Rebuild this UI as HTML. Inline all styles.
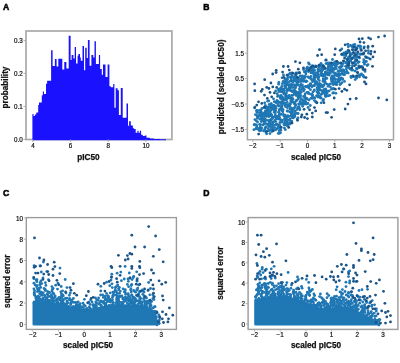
<!DOCTYPE html>
<html><head><meta charset="utf-8"><style>
html,body{margin:0;padding:0;background:#fff;width:400px;height:363px;overflow:hidden}
svg{display:block;will-change:transform}
text{font-family:"Liberation Sans", sans-serif}
circle{fill:#1f77b4} .d{fill:#1a5488}
</style></head><body>
<svg width="400" height="363" viewBox="0 0 400 363">
<rect x="26" y="31" width="145.9" height="108.5" fill="none" stroke="#a9a9a9" stroke-width="1.7"/>
<path d="M32.4,140.2H32.4V114H33.5H33.5V116H34.9H34.9V114.6H36.3H36.3V112.5H38.2H38.2V105H39H39V102.5H41.8H41.8V95.2H42.9H42.9V91.6H44H44V94H46H46V83.8H47.1H47.1V80.7H51.1H51.1V50.2H52.6H52.6V66H54.9H54.9V59H56.6H56.6V66.5H58.3H58.3V58.8H62.3H62.3V69.5H64.3H64.3V62H66.4H66.4V68.6H68.7H68.7V35.8H70.6H70.6V60H71.6H71.6V55.1H73.4H73.4V58.4H74.7H74.7V46.9H76H76V63.6H77.6H77.6V55.8H78.4H78.4V53.9H80H80V57.6H80.8H80.8V60.7H82.5H82.5V46H84H84V70.2H85.2H85.2V47.7H86.7H86.7V58H87.9H87.9V39.9H89.6H89.6V65.7H91.4H91.4V55.1H93.3H93.3V57.4H94.5H94.5V41.3H95.9H95.9V64H98.9H98.9V55H100.1H100.1V69H101.8H101.8V74.8H103H103V64.5H105.5H105.5V76.9H107.6H107.6V64.5H109.4H109.4V86.2H110.8H110.8V87.2H113.2H113.2V84.1H114.4H114.4V107.7H115.7H115.7V88.3H117.6H117.6V90.3H118.9H118.9V115H120.8H120.8V87.9H122.7H122.7V117.7H126.5H126.5V103.6H128H128V125.7H129.1H129.1V121.2H130.8H130.8V125.5H132.9H132.9V128.2H134.1H134.1V129H135.7H135.7V132.7H137.4H137.4V130.7H138.6H138.6V132.7H139.9H139.9V130.7H141.1H141.1V134.8H142.8H142.8V136H144.8H144.8V135.6H146.5H146.5V137.7H149.8H149.8V138.5H153.9H153.9V139H160H160V139.3H166V140.2Z" fill="#1a12ff" stroke="none"/>
<line x1="23.5" y1="139.5" x2="26" y2="139.5" stroke="#a9a9a9" stroke-width="0.9"/>
<text x="22.7" y="142.2" font-size="6.3" text-anchor="end" fill="#111" stroke="#111" stroke-width="0.2">0.0</text>
<line x1="23.5" y1="106.47" x2="26" y2="106.47" stroke="#a9a9a9" stroke-width="0.9"/>
<text x="22.7" y="109.17" font-size="6.3" text-anchor="end" fill="#111" stroke="#111" stroke-width="0.2">0.1</text>
<line x1="23.5" y1="73.44" x2="26" y2="73.44" stroke="#a9a9a9" stroke-width="0.9"/>
<text x="22.7" y="76.14" font-size="6.3" text-anchor="end" fill="#111" stroke="#111" stroke-width="0.2">0.2</text>
<line x1="23.5" y1="40.41" x2="26" y2="40.41" stroke="#a9a9a9" stroke-width="0.9"/>
<text x="22.7" y="43.11" font-size="6.3" text-anchor="end" fill="#111" stroke="#111" stroke-width="0.2">0.3</text>
<line x1="32.9" y1="139.5" x2="32.9" y2="142.0" stroke="#a9a9a9" stroke-width="0.9"/>
<text x="32.9" y="147.8" font-size="6.3" text-anchor="middle" fill="#111" stroke="#111" stroke-width="0.2">4</text>
<line x1="70.6" y1="139.5" x2="70.6" y2="142.0" stroke="#a9a9a9" stroke-width="0.9"/>
<text x="70.6" y="147.8" font-size="6.3" text-anchor="middle" fill="#111" stroke="#111" stroke-width="0.2">6</text>
<line x1="108.30000000000001" y1="139.5" x2="108.30000000000001" y2="142.0" stroke="#a9a9a9" stroke-width="0.9"/>
<text x="108.30000000000001" y="147.8" font-size="6.3" text-anchor="middle" fill="#111" stroke="#111" stroke-width="0.2">8</text>
<line x1="146.0" y1="139.5" x2="146.0" y2="142.0" stroke="#a9a9a9" stroke-width="0.9"/>
<text x="146.0" y="147.8" font-size="6.3" text-anchor="middle" fill="#111" stroke="#111" stroke-width="0.2">10</text>
<text transform="translate(3.1,9.5) scale(0.92,1)" font-size="9.4" font-weight="bold" fill="#000" stroke="#000" stroke-width="0.55">A</text>
<text x="88.5" y="159.9" font-size="8.2" font-weight="bold" text-anchor="middle" fill="#111" stroke="#111" stroke-width="0.25">pIC50</text>
<text transform="translate(7.6,87.5) rotate(-90)" font-size="8.2" font-weight="bold" text-anchor="middle" fill="#111" stroke="#111" stroke-width="0.25">probability</text>
<circle cx="343.0" cy="63.6" r="1.4"/>
<circle cx="305.9" cy="71.1" r="1.4"/>
<circle cx="268.8" cy="100.8" r="1.4"/>
<circle cx="325.3" cy="91.4" r="1.4"/>
<circle cx="272.7" cy="108.4" r="1.4"/>
<circle cx="349.5" cy="56.8" r="1.4"/>
<circle cx="293.0" cy="99.4" r="1.4"/>
<circle cx="296.2" cy="73.0" r="1.4"/>
<circle cx="330.4" cy="70.8" r="1.4"/>
<circle cx="271.3" cy="126.9" r="1.4"/>
<circle cx="318.1" cy="78.1" r="1.4"/>
<circle cx="315.5" cy="72.9" r="1.4"/>
<circle cx="301.1" cy="92.3" r="1.4"/>
<circle cx="291.0" cy="98.7" r="1.4"/>
<circle cx="292.3" cy="91.8" r="1.4"/>
<circle cx="337.0" cy="63.7" r="1.4"/>
<circle cx="318.6" cy="74.6" r="1.4"/>
<circle cx="279.7" cy="119.4" r="1.4"/>
<circle cx="307.2" cy="99.1" r="1.4"/>
<circle cx="305.6" cy="102.3" r="1.4"/>
<circle cx="359.8" cy="46.5" r="1.4"/>
<circle cx="352.4" cy="46.9" r="1.4"/>
<circle cx="287.3" cy="124.8" r="1.4"/>
<circle cx="265.1" cy="115.6" r="1.4"/>
<circle cx="294.9" cy="77.7" r="1.4"/>
<circle cx="289.2" cy="85.9" r="1.4"/>
<circle cx="341.5" cy="54.6" r="1.4"/>
<circle cx="358.7" cy="67.8" r="1.4"/>
<circle cx="261.2" cy="111.8" r="1.4"/>
<circle cx="357.5" cy="54.1" r="1.4"/>
<circle cx="271.7" cy="114.9" r="1.4"/>
<circle cx="336.4" cy="84.7" r="1.4"/>
<circle cx="296.2" cy="94.6" r="1.4"/>
<circle cx="267.3" cy="110.4" r="1.4"/>
<circle cx="360.4" cy="53.8" r="1.4"/>
<circle cx="368.5" cy="53.2" r="1.4"/>
<circle cx="318.8" cy="84.8" r="1.4"/>
<circle cx="272.5" cy="129.8" r="1.4"/>
<circle cx="287.1" cy="111.1" r="1.4"/>
<circle cx="270.7" cy="124.6" r="1.4"/>
<circle cx="271.6" cy="106.3" r="1.4"/>
<circle cx="313.0" cy="69.2" r="1.4"/>
<circle cx="325.2" cy="93.5" r="1.4"/>
<circle cx="310.5" cy="89.7" r="1.4"/>
<circle cx="338.2" cy="71.0" r="1.4"/>
<circle cx="321.4" cy="73.6" r="1.4"/>
<circle cx="346.3" cy="69.1" r="1.4"/>
<circle cx="299.5" cy="108.4" r="1.4"/>
<circle cx="289.9" cy="106.3" r="1.4"/>
<circle cx="257.4" cy="111.9" r="1.4"/>
<circle cx="317.3" cy="95.6" r="1.4"/>
<circle cx="325.5" cy="94.9" r="1.4"/>
<circle cx="321.0" cy="63.3" r="1.4"/>
<circle cx="355.4" cy="61.0" r="1.4"/>
<circle cx="305.6" cy="101.6" r="1.4"/>
<circle cx="298.4" cy="95.6" r="1.4"/>
<circle cx="339.2" cy="78.5" r="1.4"/>
<circle cx="284.8" cy="83.4" r="1.4"/>
<circle cx="292.0" cy="84.9" r="1.4"/>
<circle cx="356.6" cy="78.2" r="1.4"/>
<circle cx="304.7" cy="77.8" r="1.4"/>
<circle cx="331.8" cy="65.6" r="1.4"/>
<circle cx="294.9" cy="103.2" r="1.4"/>
<circle cx="306.9" cy="92.4" r="1.4"/>
<circle cx="288.2" cy="115.8" r="1.4"/>
<circle cx="339.9" cy="75.0" r="1.4"/>
<circle cx="302.2" cy="89.0" r="1.4"/>
<circle cx="302.7" cy="103.4" r="1.4"/>
<circle cx="298.5" cy="82.1" r="1.4"/>
<circle cx="268.9" cy="130.7" r="1.4"/>
<circle cx="322.7" cy="74.2" r="1.4"/>
<circle cx="333.1" cy="82.4" r="1.4"/>
<circle cx="340.5" cy="74.3" r="1.4"/>
<circle cx="286.1" cy="85.0" r="1.4"/>
<circle cx="265.1" cy="120.2" r="1.4"/>
<circle cx="287.2" cy="102.4" r="1.4"/>
<circle cx="295.1" cy="111.6" r="1.4"/>
<circle cx="274.2" cy="112.2" r="1.4"/>
<circle cx="303.5" cy="69.6" r="1.4"/>
<circle cx="275.3" cy="112.9" r="1.4"/>
<circle cx="282.4" cy="96.9" r="1.4"/>
<circle cx="294.0" cy="115.0" r="1.4"/>
<circle cx="281.4" cy="120.0" r="1.4"/>
<circle cx="327.5" cy="73.1" r="1.4"/>
<circle cx="337.9" cy="80.7" r="1.4"/>
<circle cx="294.4" cy="94.0" r="1.4"/>
<circle cx="270.4" cy="123.5" r="1.4"/>
<circle cx="360.6" cy="48.7" r="1.4"/>
<circle cx="308.2" cy="92.3" r="1.4"/>
<circle cx="287.0" cy="117.0" r="1.4"/>
<circle cx="354.5" cy="57.6" r="1.4"/>
<circle cx="329.2" cy="90.8" r="1.4"/>
<circle cx="292.5" cy="98.3" r="1.4"/>
<circle cx="340.5" cy="66.6" r="1.4"/>
<circle cx="302.3" cy="99.8" r="1.4"/>
<circle cx="267.1" cy="110.4" r="1.4"/>
<circle cx="265.0" cy="129.0" r="1.4"/>
<circle cx="318.0" cy="86.0" r="1.4"/>
<circle cx="294.7" cy="114.6" r="1.4"/>
<circle cx="303.5" cy="79.1" r="1.4"/>
<circle cx="341.2" cy="77.9" r="1.4"/>
<circle cx="326.2" cy="59.9" r="1.4"/>
<circle cx="285.2" cy="103.1" r="1.4"/>
<circle cx="298.2" cy="97.5" r="1.4"/>
<circle cx="291.5" cy="100.5" r="1.4"/>
<circle cx="268.1" cy="109.8" r="1.4"/>
<circle cx="366.4" cy="61.4" r="1.4"/>
<circle cx="284.0" cy="100.1" r="1.4"/>
<circle cx="290.0" cy="73.5" r="1.4"/>
<circle cx="274.2" cy="110.0" r="1.4"/>
<circle cx="264.7" cy="102.8" r="1.4"/>
<circle cx="268.3" cy="128.7" r="1.4"/>
<circle cx="315.4" cy="101.3" r="1.4"/>
<circle cx="280.9" cy="98.0" r="1.4"/>
<circle cx="356.8" cy="48.4" r="1.4"/>
<circle cx="278.9" cy="125.1" r="1.4"/>
<circle cx="287.0" cy="90.5" r="1.4"/>
<circle cx="357.5" cy="72.4" r="1.4"/>
<circle cx="310.2" cy="83.8" r="1.4"/>
<circle cx="363.8" cy="54.0" r="1.4"/>
<circle cx="314.6" cy="78.6" r="1.4"/>
<circle cx="285.1" cy="105.1" r="1.4"/>
<circle cx="308.9" cy="86.7" r="1.4"/>
<circle cx="284.4" cy="119.1" r="1.4"/>
<circle cx="336.3" cy="74.1" r="1.4"/>
<circle cx="314.8" cy="78.4" r="1.4"/>
<circle cx="346.7" cy="59.1" r="1.4"/>
<circle cx="273.9" cy="125.4" r="1.4"/>
<circle cx="324.4" cy="92.0" r="1.4"/>
<circle cx="312.1" cy="69.9" r="1.4"/>
<circle cx="264.9" cy="118.9" r="1.4"/>
<circle cx="329.6" cy="69.8" r="1.4"/>
<circle cx="279.2" cy="111.0" r="1.4"/>
<circle cx="306.4" cy="98.9" r="1.4"/>
<circle cx="262.6" cy="119.9" r="1.4"/>
<circle cx="336.3" cy="82.7" r="1.4"/>
<circle cx="306.0" cy="86.6" r="1.4"/>
<circle cx="286.2" cy="99.8" r="1.4"/>
<circle cx="328.1" cy="70.2" r="1.4"/>
<circle cx="284.4" cy="127.9" r="1.4"/>
<circle cx="263.8" cy="114.0" r="1.4"/>
<circle cx="285.3" cy="94.7" r="1.4"/>
<circle cx="256.4" cy="110.7" r="1.4"/>
<circle cx="328.4" cy="69.8" r="1.4"/>
<circle cx="302.5" cy="78.9" r="1.4"/>
<circle cx="290.2" cy="81.2" r="1.4"/>
<circle cx="322.9" cy="90.9" r="1.4"/>
<circle cx="355.2" cy="71.1" r="1.4"/>
<circle cx="281.0" cy="95.4" r="1.4"/>
<circle cx="361.2" cy="50.1" r="1.4"/>
<circle cx="259.6" cy="110.3" r="1.4"/>
<circle cx="362.3" cy="66.6" r="1.4"/>
<circle cx="350.9" cy="76.4" r="1.4"/>
<circle cx="317.0" cy="92.1" r="1.4"/>
<circle cx="359.4" cy="76.9" r="1.4"/>
<circle cx="264.8" cy="129.9" r="1.4"/>
<circle cx="278.0" cy="128.2" r="1.4"/>
<circle cx="332.3" cy="79.7" r="1.4"/>
<circle cx="305.7" cy="81.7" r="1.4"/>
<circle cx="309.0" cy="69.0" r="1.4"/>
<circle cx="284.8" cy="122.3" r="1.4"/>
<circle cx="290.9" cy="101.4" r="1.4"/>
<circle cx="292.8" cy="95.3" r="1.4"/>
<circle cx="281.3" cy="90.8" r="1.4"/>
<circle cx="329.7" cy="72.9" r="1.4"/>
<circle cx="323.9" cy="84.9" r="1.4"/>
<circle cx="281.0" cy="108.9" r="1.4"/>
<circle cx="288.3" cy="88.9" r="1.4"/>
<circle cx="331.2" cy="78.9" r="1.4"/>
<circle cx="291.1" cy="100.3" r="1.4"/>
<circle cx="356.9" cy="53.8" r="1.4"/>
<circle cx="293.2" cy="117.9" r="1.4"/>
<circle cx="319.4" cy="83.5" r="1.4"/>
<circle cx="327.2" cy="63.2" r="1.4"/>
<circle cx="285.9" cy="79.9" r="1.4"/>
<circle cx="333.5" cy="84.6" r="1.4"/>
<circle cx="277.7" cy="105.3" r="1.4"/>
<circle cx="298.1" cy="113.5" r="1.4"/>
<circle cx="277.8" cy="118.9" r="1.4"/>
<circle cx="285.4" cy="106.6" r="1.4"/>
<circle cx="290.2" cy="73.4" r="1.4"/>
<circle cx="308.7" cy="77.4" r="1.4"/>
<circle cx="275.7" cy="90.8" r="1.4"/>
<circle cx="259.9" cy="114.7" r="1.4"/>
<circle cx="302.6" cy="75.9" r="1.4"/>
<circle cx="291.6" cy="81.1" r="1.4"/>
<circle cx="328.1" cy="86.3" r="1.4"/>
<circle cx="335.7" cy="66.6" r="1.4"/>
<circle cx="308.4" cy="93.4" r="1.4"/>
<circle cx="287.5" cy="79.5" r="1.4"/>
<circle cx="284.9" cy="82.5" r="1.4"/>
<circle cx="283.4" cy="114.5" r="1.4"/>
<circle cx="285.4" cy="119.1" r="1.4"/>
<circle cx="321.2" cy="75.5" r="1.4"/>
<circle cx="335.9" cy="93.3" r="1.4"/>
<circle cx="299.5" cy="72.9" r="1.4"/>
<circle cx="347.9" cy="44.1" r="1.4"/>
<circle cx="276.2" cy="124.4" r="1.4"/>
<circle cx="281.3" cy="88.2" r="1.4"/>
<circle cx="295.7" cy="86.5" r="1.4"/>
<circle cx="282.1" cy="77.8" r="1.4"/>
<circle cx="349.9" cy="68.5" r="1.4"/>
<circle cx="325.3" cy="95.7" r="1.4"/>
<circle cx="298.5" cy="85.1" r="1.4"/>
<circle cx="295.8" cy="73.9" r="1.4"/>
<circle cx="324.1" cy="89.7" r="1.4"/>
<circle cx="268.4" cy="109.1" r="1.4"/>
<circle cx="350.5" cy="45.5" r="1.4"/>
<circle cx="281.8" cy="86.3" r="1.4"/>
<circle cx="314.4" cy="75.0" r="1.4"/>
<circle cx="279.2" cy="109.9" r="1.4"/>
<circle cx="282.3" cy="83.7" r="1.4"/>
<circle cx="311.9" cy="65.8" r="1.4"/>
<circle cx="293.3" cy="117.0" r="1.4"/>
<circle cx="314.3" cy="76.4" r="1.4"/>
<circle cx="296.1" cy="85.1" r="1.4"/>
<circle cx="299.7" cy="104.4" r="1.4"/>
<circle cx="350.7" cy="60.9" r="1.4"/>
<circle cx="269.0" cy="126.6" r="1.4"/>
<circle cx="320.1" cy="89.9" r="1.4"/>
<circle cx="308.2" cy="85.6" r="1.4"/>
<circle cx="343.8" cy="52.9" r="1.4"/>
<circle cx="312.9" cy="72.0" r="1.4"/>
<circle cx="294.5" cy="90.2" r="1.4"/>
<circle cx="301.3" cy="85.4" r="1.4"/>
<circle cx="278.3" cy="133.4" r="1.4"/>
<circle cx="274.2" cy="105.5" r="1.4"/>
<circle cx="258.7" cy="128.4" r="1.4"/>
<circle cx="288.8" cy="123.3" r="1.4"/>
<circle cx="324.2" cy="75.8" r="1.4"/>
<circle cx="363.1" cy="75.3" r="1.4"/>
<circle cx="277.5" cy="96.4" r="1.4"/>
<circle cx="360.3" cy="74.8" r="1.4"/>
<circle cx="350.1" cy="55.7" r="1.4"/>
<circle cx="286.5" cy="78.9" r="1.4"/>
<circle cx="292.9" cy="108.5" r="1.4"/>
<circle cx="290.6" cy="97.6" r="1.4"/>
<circle cx="285.4" cy="119.7" r="1.4"/>
<circle cx="283.0" cy="92.1" r="1.4"/>
<circle cx="338.2" cy="73.9" r="1.4"/>
<circle cx="326.6" cy="73.8" r="1.4"/>
<circle cx="322.5" cy="93.5" r="1.4"/>
<circle cx="264.6" cy="120.8" r="1.4"/>
<circle cx="262.6" cy="115.5" r="1.4"/>
<circle cx="318.0" cy="69.3" r="1.4"/>
<circle cx="300.4" cy="95.5" r="1.4"/>
<circle cx="281.7" cy="91.8" r="1.4"/>
<circle cx="279.1" cy="115.0" r="1.4"/>
<circle cx="318.4" cy="95.3" r="1.4"/>
<circle cx="285.2" cy="86.9" r="1.4"/>
<circle cx="282.0" cy="121.0" r="1.4"/>
<circle cx="286.0" cy="95.2" r="1.4"/>
<circle cx="279.6" cy="113.6" r="1.4"/>
<circle cx="341.6" cy="71.3" r="1.4"/>
<circle cx="293.8" cy="84.7" r="1.4"/>
<circle cx="309.3" cy="64.2" r="1.4"/>
<circle cx="283.8" cy="92.6" r="1.4"/>
<circle cx="321.7" cy="90.7" r="1.4"/>
<circle cx="287.1" cy="121.8" r="1.4"/>
<circle cx="280.5" cy="132.8" r="1.4"/>
<circle cx="285.5" cy="97.1" r="1.4"/>
<circle cx="342.7" cy="78.8" r="1.4"/>
<circle cx="352.2" cy="53.7" r="1.4"/>
<circle cx="325.0" cy="74.3" r="1.4"/>
<circle cx="273.7" cy="117.1" r="1.4"/>
<circle cx="321.1" cy="94.5" r="1.4"/>
<circle cx="298.0" cy="117.8" r="1.4"/>
<circle cx="316.9" cy="76.6" r="1.4"/>
<circle cx="287.3" cy="124.7" r="1.4"/>
<circle cx="271.1" cy="115.6" r="1.4"/>
<circle cx="294.2" cy="79.4" r="1.4"/>
<circle cx="312.4" cy="97.7" r="1.4"/>
<circle cx="291.2" cy="111.7" r="1.4"/>
<circle cx="328.0" cy="69.7" r="1.4"/>
<circle cx="289.9" cy="90.4" r="1.4"/>
<circle cx="326.1" cy="90.2" r="1.4"/>
<circle cx="264.1" cy="123.7" r="1.4"/>
<circle cx="318.9" cy="92.9" r="1.4"/>
<circle cx="289.3" cy="89.7" r="1.4"/>
<circle cx="329.2" cy="62.8" r="1.4"/>
<circle cx="339.9" cy="84.6" r="1.4"/>
<circle cx="333.4" cy="72.5" r="1.4"/>
<circle cx="280.8" cy="114.3" r="1.4"/>
<circle cx="290.4" cy="122.7" r="1.4"/>
<circle cx="345.9" cy="55.7" r="1.4"/>
<circle cx="308.0" cy="76.8" r="1.4"/>
<circle cx="268.2" cy="124.6" r="1.4"/>
<circle cx="314.2" cy="90.6" r="1.4"/>
<circle cx="268.8" cy="116.1" r="1.4"/>
<circle cx="318.6" cy="68.9" r="1.4"/>
<circle cx="352.0" cy="58.3" r="1.4"/>
<circle cx="355.2" cy="79.6" r="1.4"/>
<circle cx="333.4" cy="88.3" r="1.4"/>
<circle cx="298.3" cy="99.1" r="1.4"/>
<circle cx="331.7" cy="68.4" r="1.4"/>
<circle cx="272.6" cy="123.6" r="1.4"/>
<circle cx="259.6" cy="116.2" r="1.4"/>
<circle cx="339.7" cy="74.7" r="1.4"/>
<circle cx="261.5" cy="116.9" r="1.4"/>
<circle cx="290.0" cy="124.1" r="1.4"/>
<circle cx="257.0" cy="112.5" r="1.4"/>
<circle cx="300.6" cy="103.1" r="1.4"/>
<circle cx="338.6" cy="63.2" r="1.4"/>
<circle cx="348.4" cy="67.3" r="1.4"/>
<circle cx="325.0" cy="81.8" r="1.4"/>
<circle cx="313.6" cy="70.8" r="1.4"/>
<circle cx="267.7" cy="101.2" r="1.4"/>
<circle cx="290.8" cy="108.9" r="1.4"/>
<circle cx="354.8" cy="44.4" r="1.4"/>
<circle cx="341.1" cy="63.4" r="1.4"/>
<circle cx="294.8" cy="111.1" r="1.4"/>
<circle cx="285.1" cy="124.6" r="1.4"/>
<circle cx="285.1" cy="104.8" r="1.4"/>
<circle cx="305.5" cy="86.3" r="1.4"/>
<circle cx="303.5" cy="96.4" r="1.4"/>
<circle cx="280.8" cy="91.5" r="1.4"/>
<circle cx="298.8" cy="96.1" r="1.4"/>
<circle cx="264.1" cy="122.0" r="1.4"/>
<circle cx="346.6" cy="62.8" r="1.4"/>
<circle cx="270.4" cy="114.9" r="1.4"/>
<circle cx="268.9" cy="113.5" r="1.4"/>
<circle cx="343.7" cy="74.4" r="1.4"/>
<circle cx="336.5" cy="66.1" r="1.4"/>
<circle cx="300.0" cy="76.1" r="1.4"/>
<circle cx="283.8" cy="102.9" r="1.4"/>
<circle cx="323.5" cy="66.6" r="1.4"/>
<circle cx="275.5" cy="110.6" r="1.4"/>
<circle cx="256.6" cy="127.6" r="1.4"/>
<circle cx="325.3" cy="83.2" r="1.4"/>
<circle cx="278.9" cy="106.1" r="1.4"/>
<circle cx="314.6" cy="67.0" r="1.4"/>
<circle cx="273.1" cy="122.0" r="1.4"/>
<circle cx="312.1" cy="98.3" r="1.4"/>
<circle cx="266.6" cy="133.8" r="1.4"/>
<circle cx="324.5" cy="67.4" r="1.4"/>
<circle cx="276.0" cy="124.6" r="1.4"/>
<circle cx="325.5" cy="72.2" r="1.4"/>
<circle cx="323.0" cy="69.6" r="1.4"/>
<circle cx="304.8" cy="96.1" r="1.4"/>
<circle cx="282.3" cy="105.1" r="1.4"/>
<circle cx="300.5" cy="80.6" r="1.4"/>
<circle cx="330.5" cy="73.1" r="1.4"/>
<circle cx="363.7" cy="59.7" r="1.4"/>
<circle cx="312.0" cy="86.8" r="1.4"/>
<circle cx="302.4" cy="84.9" r="1.4"/>
<circle cx="294.1" cy="91.6" r="1.4"/>
<circle cx="265.7" cy="126.9" r="1.4"/>
<circle cx="347.8" cy="66.3" r="1.4"/>
<circle cx="312.8" cy="98.0" r="1.4"/>
<circle cx="290.7" cy="98.2" r="1.4"/>
<circle cx="329.1" cy="84.7" r="1.4"/>
<circle cx="269.0" cy="121.5" r="1.4"/>
<circle cx="289.8" cy="86.5" r="1.4"/>
<circle cx="326.7" cy="96.0" r="1.4"/>
<circle cx="331.5" cy="89.2" r="1.4"/>
<circle cx="261.8" cy="114.7" r="1.4"/>
<circle cx="284.5" cy="124.8" r="1.4"/>
<circle cx="277.0" cy="100.5" r="1.4"/>
<circle cx="324.5" cy="81.3" r="1.4"/>
<circle cx="297.3" cy="81.1" r="1.4"/>
<circle cx="295.9" cy="105.4" r="1.4"/>
<circle cx="297.3" cy="84.8" r="1.4"/>
<circle cx="302.7" cy="78.4" r="1.4"/>
<circle cx="343.7" cy="70.3" r="1.4"/>
<circle cx="324.6" cy="89.5" r="1.4"/>
<circle cx="316.9" cy="102.8" r="1.4"/>
<circle cx="355.4" cy="46.9" r="1.4"/>
<circle cx="272.9" cy="108.7" r="1.4"/>
<circle cx="256.4" cy="124.9" r="1.4"/>
<circle cx="275.6" cy="129.9" r="1.4"/>
<circle cx="331.5" cy="80.9" r="1.4"/>
<circle cx="330.3" cy="83.8" r="1.4"/>
<circle cx="348.9" cy="61.6" r="1.4"/>
<circle cx="320.5" cy="97.9" r="1.4"/>
<circle cx="305.5" cy="76.6" r="1.4"/>
<circle cx="269.3" cy="120.2" r="1.4"/>
<circle cx="316.5" cy="81.6" r="1.4"/>
<circle cx="312.2" cy="70.5" r="1.4"/>
<circle cx="261.4" cy="112.9" r="1.4"/>
<circle cx="294.5" cy="77.0" r="1.4"/>
<circle cx="260.2" cy="127.2" r="1.4"/>
<circle cx="359.8" cy="45.8" r="1.4"/>
<circle cx="288.9" cy="98.1" r="1.4"/>
<circle cx="308.5" cy="71.5" r="1.4"/>
<circle cx="298.1" cy="107.2" r="1.4"/>
<circle cx="321.2" cy="98.0" r="1.4"/>
<circle cx="321.4" cy="65.1" r="1.4"/>
<circle cx="355.2" cy="53.5" r="1.4"/>
<circle cx="301.0" cy="79.4" r="1.4"/>
<circle cx="302.9" cy="87.2" r="1.4"/>
<circle cx="334.1" cy="68.5" r="1.4"/>
<circle cx="303.4" cy="89.5" r="1.4"/>
<circle cx="343.6" cy="74.5" r="1.4"/>
<circle cx="282.3" cy="99.1" r="1.4"/>
<circle cx="322.7" cy="69.2" r="1.4"/>
<circle cx="316.1" cy="75.0" r="1.4"/>
<circle cx="345.6" cy="66.3" r="1.4"/>
<circle cx="325.4" cy="72.2" r="1.4"/>
<circle cx="350.4" cy="57.8" r="1.4"/>
<circle cx="316.9" cy="82.7" r="1.4"/>
<circle cx="292.0" cy="111.7" r="1.4"/>
<circle cx="276.3" cy="102.7" r="1.4"/>
<circle cx="271.8" cy="131.6" r="1.4"/>
<circle cx="334.6" cy="83.7" r="1.4"/>
<circle cx="305.1" cy="94.0" r="1.4"/>
<circle cx="355.4" cy="76.7" r="1.4"/>
<circle cx="325.5" cy="93.7" r="1.4"/>
<circle cx="291.5" cy="100.7" r="1.4"/>
<circle cx="326.9" cy="84.1" r="1.4"/>
<circle cx="330.5" cy="65.4" r="1.4"/>
<circle cx="354.9" cy="61.6" r="1.4"/>
<circle cx="339.2" cy="73.7" r="1.4"/>
<circle cx="359.1" cy="61.8" r="1.4"/>
<circle cx="356.4" cy="68.4" r="1.4"/>
<circle cx="300.3" cy="90.3" r="1.4"/>
<circle cx="295.1" cy="80.7" r="1.4"/>
<circle cx="269.4" cy="115.8" r="1.4"/>
<circle cx="300.1" cy="101.4" r="1.4"/>
<circle cx="304.7" cy="104.0" r="1.4"/>
<circle cx="310.9" cy="98.3" r="1.4"/>
<circle cx="300.9" cy="84.3" r="1.4"/>
<circle cx="280.2" cy="127.7" r="1.4"/>
<circle cx="349.6" cy="61.3" r="1.4"/>
<circle cx="307.8" cy="70.9" r="1.4"/>
<circle cx="307.2" cy="87.0" r="1.4"/>
<circle cx="360.1" cy="75.2" r="1.4"/>
<circle cx="314.6" cy="70.4" r="1.4"/>
<circle cx="320.7" cy="71.4" r="1.4"/>
<circle cx="299.4" cy="89.0" r="1.4"/>
<circle cx="288.1" cy="85.1" r="1.4"/>
<circle cx="271.7" cy="126.9" r="1.4"/>
<circle cx="289.7" cy="111.9" r="1.4"/>
<circle cx="265.8" cy="114.6" r="1.4"/>
<circle cx="270.5" cy="113.5" r="1.4"/>
<circle cx="292.0" cy="102.1" r="1.4"/>
<circle cx="272.0" cy="118.3" r="1.4"/>
<circle cx="338.9" cy="73.9" r="1.4"/>
<circle cx="332.5" cy="59.5" r="1.4"/>
<circle cx="309.9" cy="78.2" r="1.4"/>
<circle cx="271.4" cy="123.8" r="1.4"/>
<circle cx="355.5" cy="61.3" r="1.4"/>
<circle cx="347.0" cy="67.1" r="1.4"/>
<circle cx="342.1" cy="78.8" r="1.4"/>
<circle cx="282.3" cy="102.4" r="1.4"/>
<circle cx="296.9" cy="109.6" r="1.4"/>
<circle cx="266.0" cy="108.1" r="1.4"/>
<circle cx="320.9" cy="66.0" r="1.4"/>
<circle cx="313.4" cy="68.1" r="1.4"/>
<circle cx="368.3" cy="50.7" r="1.4"/>
<circle cx="324.0" cy="80.9" r="1.4"/>
<circle cx="328.8" cy="64.9" r="1.4"/>
<circle cx="266.0" cy="132.4" r="1.4"/>
<circle cx="359.5" cy="57.9" r="1.4"/>
<circle cx="260.7" cy="124.7" r="1.4"/>
<circle cx="281.3" cy="91.0" r="1.4"/>
<circle cx="297.9" cy="93.2" r="1.4"/>
<circle cx="279.6" cy="117.4" r="1.4"/>
<circle cx="289.5" cy="89.1" r="1.4"/>
<circle cx="288.4" cy="82.4" r="1.4"/>
<circle cx="275.9" cy="121.6" r="1.4"/>
<circle cx="344.5" cy="72.0" r="1.4"/>
<circle cx="320.5" cy="84.1" r="1.4"/>
<circle cx="285.7" cy="94.0" r="1.4"/>
<circle cx="318.2" cy="78.9" r="1.4"/>
<circle cx="365.5" cy="56.6" r="1.4"/>
<circle cx="343.8" cy="70.9" r="1.4"/>
<circle cx="319.2" cy="70.7" r="1.4"/>
<circle cx="302.6" cy="102.2" r="1.4"/>
<circle cx="283.6" cy="81.4" r="1.4"/>
<circle cx="284.7" cy="99.7" r="1.4"/>
<circle cx="327.7" cy="74.8" r="1.4"/>
<circle cx="262.1" cy="119.3" r="1.4"/>
<circle cx="304.4" cy="71.9" r="1.4"/>
<circle cx="308.1" cy="107.5" r="1.4"/>
<circle cx="289.4" cy="85.5" r="1.4"/>
<circle cx="259.6" cy="130.9" r="1.4"/>
<circle cx="293.6" cy="109.0" r="1.4"/>
<circle cx="335.4" cy="81.9" r="1.4"/>
<circle cx="309.1" cy="100.0" r="1.4"/>
<circle cx="323.0" cy="81.4" r="1.4"/>
<circle cx="368.0" cy="47.7" r="1.4"/>
<circle cx="319.3" cy="80.6" r="1.4"/>
<circle cx="292.3" cy="76.7" r="1.4"/>
<circle cx="267.8" cy="109.4" r="1.4"/>
<circle cx="330.5" cy="87.1" r="1.4"/>
<circle cx="286.9" cy="82.9" r="1.4"/>
<circle cx="290.8" cy="121.3" r="1.4"/>
<circle cx="317.6" cy="76.6" r="1.4"/>
<circle cx="349.1" cy="65.3" r="1.4"/>
<circle cx="335.0" cy="79.5" r="1.4"/>
<circle cx="328.4" cy="66.8" r="1.4"/>
<circle cx="315.1" cy="84.0" r="1.4"/>
<circle cx="309.5" cy="93.8" r="1.4"/>
<circle cx="267.6" cy="124.1" r="1.4"/>
<circle cx="282.7" cy="98.9" r="1.4"/>
<circle cx="260.0" cy="119.2" r="1.4"/>
<circle cx="305.8" cy="98.0" r="1.4"/>
<circle cx="324.7" cy="91.3" r="1.4"/>
<circle cx="318.2" cy="87.8" r="1.4"/>
<circle cx="292.1" cy="75.0" r="1.4"/>
<circle cx="289.9" cy="109.1" r="1.4"/>
<circle cx="273.3" cy="125.2" r="1.4"/>
<circle cx="356.0" cy="64.5" r="1.4"/>
<circle cx="282.8" cy="111.8" r="1.4"/>
<circle cx="261.7" cy="128.0" r="1.4"/>
<circle cx="275.2" cy="115.5" r="1.4"/>
<circle cx="279.5" cy="91.0" r="1.4"/>
<circle cx="288.5" cy="120.2" r="1.4"/>
<circle cx="314.6" cy="98.2" r="1.4"/>
<circle cx="361.5" cy="73.9" r="1.4"/>
<circle cx="333.0" cy="88.8" r="1.4"/>
<circle cx="338.2" cy="79.3" r="1.4"/>
<circle cx="353.5" cy="76.7" r="1.4"/>
<circle cx="276.0" cy="115.9" r="1.4"/>
<circle cx="319.9" cy="86.1" r="1.4"/>
<circle cx="315.8" cy="101.9" r="1.4"/>
<circle cx="280.4" cy="98.2" r="1.4"/>
<circle cx="358.1" cy="62.5" r="1.4"/>
<circle cx="284.6" cy="85.7" r="1.4"/>
<circle cx="288.2" cy="105.9" r="1.4"/>
<circle cx="368.0" cy="64.6" r="1.4"/>
<circle cx="303.5" cy="90.9" r="1.4"/>
<circle cx="333.8" cy="63.4" r="1.4"/>
<circle cx="321.9" cy="67.7" r="1.4"/>
<circle cx="337.9" cy="82.0" r="1.4"/>
<circle cx="255.9" cy="128.9" r="1.4"/>
<circle cx="266.0" cy="111.5" r="1.4"/>
<circle cx="311.2" cy="70.3" r="1.4"/>
<circle cx="345.8" cy="53.9" r="1.4"/>
<circle cx="340.1" cy="70.6" r="1.4"/>
<circle cx="314.3" cy="90.0" r="1.4"/>
<circle cx="302.6" cy="80.8" r="1.4"/>
<circle cx="263.9" cy="107.6" r="1.4"/>
<circle cx="323.3" cy="78.7" r="1.4"/>
<circle cx="280.8" cy="130.2" r="1.4"/>
<circle cx="288.1" cy="97.0" r="1.4"/>
<circle cx="283.4" cy="98.6" r="1.4"/>
<circle cx="286.1" cy="123.3" r="1.4"/>
<circle cx="330.5" cy="66.1" r="1.4"/>
<circle cx="332.6" cy="63.3" r="1.4"/>
<circle cx="290.5" cy="107.9" r="1.4"/>
<circle cx="350.5" cy="60.7" r="1.4"/>
<circle cx="306.8" cy="98.5" r="1.4"/>
<circle cx="337.8" cy="63.5" r="1.4"/>
<circle cx="285.4" cy="79.2" r="1.4"/>
<circle cx="284.1" cy="124.3" r="1.4"/>
<circle cx="278.7" cy="84.2" r="1.4"/>
<circle cx="292.9" cy="81.2" r="1.4"/>
<circle cx="302.1" cy="78.1" r="1.4"/>
<circle cx="309.1" cy="68.5" r="1.4"/>
<circle cx="309.8" cy="70.7" r="1.4"/>
<circle cx="292.6" cy="112.6" r="1.4"/>
<circle cx="296.7" cy="77.7" r="1.4"/>
<circle cx="286.6" cy="81.0" r="1.4"/>
<circle cx="350.2" cy="57.7" r="1.4"/>
<circle cx="308.5" cy="85.8" r="1.4"/>
<circle cx="290.0" cy="88.7" r="1.4"/>
<circle cx="347.7" cy="52.8" r="1.4"/>
<circle cx="264.3" cy="113.0" r="1.4"/>
<circle cx="328.5" cy="64.9" r="1.4"/>
<circle cx="287.9" cy="125.5" r="1.4"/>
<circle cx="318.9" cy="66.8" r="1.4"/>
<circle cx="257.8" cy="117.0" r="1.4"/>
<circle cx="341.9" cy="66.3" r="1.4"/>
<circle cx="348.2" cy="73.1" r="1.4"/>
<circle cx="328.5" cy="73.0" r="1.4"/>
<circle cx="351.4" cy="70.1" r="1.4"/>
<circle cx="263.9" cy="117.3" r="1.4"/>
<circle cx="272.6" cy="117.9" r="1.4"/>
<circle cx="254.9" cy="119.6" r="1.4"/>
<circle cx="315.5" cy="65.9" r="1.4"/>
<circle cx="303.3" cy="81.3" r="1.4"/>
<circle cx="281.9" cy="108.4" r="1.4"/>
<circle cx="305.6" cy="71.8" r="1.4"/>
<circle cx="319.8" cy="96.8" r="1.4"/>
<circle cx="326.8" cy="78.4" r="1.4"/>
<circle cx="365.0" cy="71.4" r="1.4"/>
<circle cx="348.3" cy="46.8" r="1.4"/>
<circle cx="364.3" cy="46.8" r="1.4"/>
<circle cx="311.9" cy="69.8" r="1.4"/>
<circle cx="322.9" cy="100.5" r="1.4"/>
<circle cx="314.5" cy="85.7" r="1.4"/>
<circle cx="289.1" cy="116.4" r="1.4"/>
<circle cx="363.7" cy="62.3" r="1.4"/>
<circle cx="325.6" cy="96.6" r="1.4"/>
<circle cx="335.4" cy="83.3" r="1.4"/>
<circle cx="367.1" cy="57.7" r="1.4"/>
<circle cx="338.2" cy="74.3" r="1.4"/>
<circle cx="299.0" cy="106.9" r="1.4"/>
<circle cx="304.5" cy="101.2" r="1.4"/>
<circle cx="261.9" cy="108.5" r="1.4"/>
<circle cx="332.1" cy="75.8" r="1.4"/>
<circle cx="333.6" cy="78.2" r="1.4"/>
<circle cx="297.5" cy="78.4" r="1.4"/>
<circle cx="326.0" cy="74.0" r="1.4"/>
<circle cx="296.7" cy="113.4" r="1.4"/>
<circle cx="314.0" cy="75.1" r="1.4"/>
<circle cx="287.4" cy="107.7" r="1.4"/>
<circle cx="352.8" cy="70.2" r="1.4"/>
<circle cx="347.9" cy="44.5" r="1.4"/>
<circle cx="278.0" cy="116.4" r="1.4"/>
<circle cx="346.9" cy="71.3" r="1.4"/>
<circle cx="281.9" cy="106.8" r="1.4"/>
<circle cx="323.6" cy="66.4" r="1.4"/>
<circle cx="294.4" cy="80.9" r="1.4"/>
<circle cx="271.7" cy="116.0" r="1.4"/>
<circle cx="258.6" cy="129.6" r="1.4"/>
<circle cx="296.6" cy="100.2" r="1.4"/>
<circle cx="281.8" cy="104.3" r="1.4"/>
<circle cx="312.9" cy="92.1" r="1.4"/>
<circle cx="278.4" cy="104.0" r="1.4"/>
<circle cx="298.0" cy="72.8" r="1.4"/>
<circle cx="350.4" cy="54.2" r="1.4"/>
<circle cx="348.0" cy="65.4" r="1.4"/>
<circle cx="286.5" cy="96.3" r="1.4"/>
<circle cx="299.8" cy="109.8" r="1.4"/>
<circle cx="356.8" cy="56.6" r="1.4"/>
<circle cx="302.7" cy="104.2" r="1.4"/>
<circle cx="334.5" cy="75.3" r="1.4"/>
<circle cx="342.0" cy="73.9" r="1.4"/>
<circle cx="294.0" cy="103.1" r="1.4"/>
<circle cx="273.0" cy="129.2" r="1.4"/>
<circle cx="302.6" cy="104.6" r="1.4"/>
<circle cx="338.1" cy="76.1" r="1.4"/>
<circle cx="276.1" cy="117.0" r="1.4"/>
<circle cx="303.5" cy="102.7" r="1.4"/>
<circle cx="317.4" cy="89.6" r="1.4"/>
<circle cx="285.3" cy="129.6" r="1.4"/>
<circle cx="268.1" cy="115.9" r="1.4"/>
<circle cx="333.7" cy="69.2" r="1.4"/>
<circle cx="290.7" cy="77.6" r="1.4"/>
<circle cx="281.0" cy="106.6" r="1.4"/>
<circle cx="336.5" cy="84.5" r="1.4"/>
<circle cx="278.6" cy="112.2" r="1.4"/>
<circle cx="329.6" cy="72.9" r="1.4"/>
<circle cx="269.9" cy="133.6" r="1.4"/>
<circle cx="257.8" cy="115.7" r="1.4"/>
<circle cx="318.4" cy="71.5" r="1.4"/>
<circle cx="340.8" cy="83.9" r="1.4"/>
<circle cx="342.1" cy="70.0" r="1.4"/>
<circle cx="278.8" cy="82.3" r="1.4"/>
<circle cx="306.9" cy="81.3" r="1.4"/>
<circle cx="323.3" cy="80.2" r="1.4"/>
<circle cx="326.0" cy="63.6" r="1.4"/>
<circle cx="300.1" cy="94.5" r="1.4"/>
<circle cx="321.8" cy="71.3" r="1.4"/>
<circle cx="289.2" cy="95.3" r="1.4"/>
<circle cx="317.5" cy="87.9" r="1.4"/>
<circle cx="317.8" cy="97.0" r="1.4"/>
<circle cx="265.6" cy="114.2" r="1.4"/>
<circle cx="332.5" cy="80.4" r="1.4"/>
<circle cx="347.7" cy="51.9" r="1.4"/>
<circle cx="298.6" cy="93.2" r="1.4"/>
<circle cx="346.0" cy="51.8" r="1.4"/>
<circle cx="283.1" cy="109.7" r="1.4"/>
<circle cx="265.3" cy="105.5" r="1.4"/>
<circle cx="265.9" cy="123.6" r="1.4"/>
<circle cx="294.7" cy="93.5" r="1.4"/>
<circle cx="269.6" cy="124.5" r="1.4"/>
<circle cx="283.8" cy="116.0" r="1.4"/>
<circle cx="348.7" cy="58.7" r="1.4"/>
<circle cx="300.6" cy="76.0" r="1.4"/>
<circle cx="322.2" cy="85.3" r="1.4"/>
<circle cx="344.5" cy="81.4" r="1.4"/>
<circle cx="275.2" cy="106.7" r="1.4"/>
<circle cx="295.1" cy="113.8" r="1.4"/>
<circle cx="257.5" cy="122.0" r="1.4"/>
<circle cx="301.0" cy="98.7" r="1.4"/>
<circle cx="351.7" cy="46.1" r="1.4"/>
<circle cx="334.6" cy="65.4" r="1.4"/>
<circle cx="333.6" cy="92.7" r="1.4"/>
<circle cx="360.7" cy="46.4" r="1.4"/>
<circle cx="334.1" cy="77.9" r="1.4"/>
<circle cx="345.7" cy="54.6" r="1.4"/>
<circle cx="336.3" cy="68.7" r="1.4"/>
<circle cx="286.5" cy="123.4" r="1.4"/>
<circle cx="341.8" cy="49.0" r="1.4"/>
<circle cx="278.0" cy="101.5" r="1.4"/>
<circle cx="270.0" cy="130.2" r="1.4"/>
<circle cx="277.3" cy="124.1" r="1.4"/>
<circle cx="289.9" cy="119.1" r="1.4"/>
<circle cx="335.4" cy="73.2" r="1.4"/>
<circle cx="337.5" cy="62.5" r="1.4"/>
<circle cx="329.9" cy="69.9" r="1.4"/>
<circle cx="290.5" cy="76.9" r="1.4"/>
<circle cx="302.8" cy="80.5" r="1.4"/>
<circle cx="291.2" cy="90.7" r="1.4"/>
<circle cx="294.0" cy="116.2" r="1.4"/>
<circle cx="305.9" cy="73.9" r="1.4"/>
<circle cx="285.7" cy="82.2" r="1.4"/>
<circle cx="330.1" cy="66.6" r="1.4"/>
<circle cx="277.1" cy="93.7" r="1.4"/>
<circle cx="315.0" cy="81.5" r="1.4"/>
<circle cx="278.8" cy="91.5" r="1.4"/>
<circle cx="261.3" cy="121.5" r="1.4"/>
<circle cx="334.1" cy="78.7" r="1.4"/>
<circle cx="254.9" cy="107.1" r="1.4"/>
<circle cx="272.5" cy="109.0" r="1.4"/>
<circle cx="312.6" cy="95.4" r="1.4"/>
<circle cx="354.6" cy="55.5" r="1.4"/>
<circle cx="269.3" cy="104.3" r="1.4"/>
<circle cx="318.6" cy="77.2" r="1.4"/>
<circle cx="319.5" cy="88.0" r="1.4"/>
<circle cx="289.2" cy="88.7" r="1.4"/>
<circle cx="348.1" cy="50.1" r="1.4"/>
<circle cx="288.6" cy="74.6" r="1.4"/>
<circle cx="322.3" cy="86.9" r="1.4"/>
<circle cx="348.5" cy="65.2" r="1.4"/>
<circle cx="327.6" cy="68.7" r="1.4"/>
<circle cx="266.7" cy="112.3" r="1.4"/>
<circle cx="317.6" cy="72.3" r="1.4"/>
<circle cx="343.2" cy="69.8" r="1.4"/>
<circle cx="284.1" cy="89.0" r="1.4"/>
<circle cx="365.2" cy="61.9" r="1.4"/>
<circle cx="314.1" cy="77.4" r="1.4"/>
<circle cx="339.3" cy="67.5" r="1.4"/>
<circle cx="324.9" cy="81.5" r="1.4"/>
<circle cx="354.1" cy="62.8" r="1.4"/>
<circle cx="304.6" cy="101.2" r="1.4"/>
<circle cx="294.7" cy="104.1" r="1.4"/>
<circle cx="358.8" cy="65.8" r="1.4"/>
<circle cx="294.2" cy="77.9" r="1.4"/>
<circle cx="317.5" cy="75.9" r="1.4"/>
<circle cx="352.4" cy="65.7" r="1.4"/>
<circle cx="295.4" cy="88.1" r="1.4"/>
<circle cx="280.2" cy="130.3" r="1.4"/>
<circle cx="300.8" cy="81.6" r="1.4"/>
<circle cx="362.9" cy="75.8" r="1.4"/>
<circle cx="262.8" cy="113.9" r="1.4"/>
<circle cx="310.4" cy="85.5" r="1.4"/>
<circle cx="293.5" cy="80.7" r="1.4"/>
<circle cx="278.4" cy="116.6" r="1.4"/>
<circle cx="292.0" cy="115.4" r="1.4"/>
<circle cx="303.7" cy="80.6" r="1.4"/>
<circle cx="276.2" cy="118.7" r="1.4"/>
<circle cx="284.6" cy="124.5" r="1.4"/>
<circle cx="264.6" cy="121.5" r="1.4"/>
<circle cx="353.8" cy="56.3" r="1.4"/>
<circle cx="295.9" cy="101.2" r="1.4"/>
<circle cx="272.1" cy="130.4" r="1.4"/>
<circle cx="356.9" cy="69.1" r="1.4"/>
<circle cx="269.4" cy="111.2" r="1.4"/>
<circle cx="359.6" cy="67.3" r="1.4"/>
<circle cx="295.7" cy="91.4" r="1.4"/>
<circle cx="325.1" cy="91.5" r="1.4"/>
<circle cx="280.0" cy="122.5" r="1.4"/>
<circle cx="270.9" cy="107.7" r="1.4"/>
<circle cx="318.0" cy="87.2" r="1.4"/>
<circle cx="289.8" cy="84.6" r="1.4"/>
<circle cx="267.7" cy="114.2" r="1.4"/>
<circle cx="287.6" cy="111.0" r="1.4"/>
<circle cx="342.6" cy="79.2" r="1.4"/>
<circle cx="314.4" cy="100.6" r="1.4"/>
<circle cx="286.9" cy="90.3" r="1.4"/>
<circle cx="273.0" cy="105.4" r="1.4"/>
<circle cx="338.3" cy="76.2" r="1.4"/>
<circle cx="336.0" cy="64.2" r="1.4"/>
<circle cx="301.5" cy="79.4" r="1.4"/>
<circle cx="306.1" cy="80.9" r="1.4"/>
<circle cx="323.7" cy="68.2" r="1.4"/>
<circle cx="360.6" cy="54.4" r="1.4"/>
<circle cx="269.2" cy="116.0" r="1.4"/>
<circle cx="292.1" cy="117.5" r="1.4"/>
<circle cx="292.9" cy="81.9" r="1.4"/>
<circle cx="322.8" cy="69.0" r="1.4"/>
<circle cx="334.8" cy="62.0" r="1.4"/>
<circle cx="275.5" cy="110.7" r="1.4"/>
<circle cx="269.2" cy="124.7" r="1.4"/>
<circle cx="280.0" cy="96.8" r="1.4"/>
<circle cx="340.0" cy="70.7" r="1.4"/>
<circle cx="323.0" cy="65.4" r="1.4"/>
<circle cx="268.5" cy="106.8" r="1.4"/>
<circle cx="291.6" cy="87.3" r="1.4"/>
<circle cx="285.1" cy="79.3" r="1.4"/>
<circle cx="254.1" cy="124.8" r="1.4"/>
<circle cx="331.1" cy="69.4" r="1.4"/>
<circle cx="364.7" cy="61.4" r="1.4"/>
<circle cx="275.6" cy="106.8" r="1.4"/>
<circle cx="311.9" cy="79.9" r="1.4"/>
<circle cx="300.0" cy="86.8" r="1.4"/>
<circle cx="332.4" cy="77.2" r="1.4"/>
<circle cx="343.6" cy="55.2" r="1.4"/>
<circle cx="260.9" cy="110.1" r="1.4"/>
<circle cx="325.7" cy="95.3" r="1.4"/>
<circle cx="260.8" cy="129.2" r="1.4"/>
<circle cx="327.4" cy="63.2" r="1.4"/>
<circle cx="297.2" cy="119.1" r="1.4"/>
<circle cx="263.9" cy="113.6" r="1.4"/>
<circle cx="321.3" cy="73.3" r="1.4"/>
<circle cx="347.3" cy="61.6" r="1.4"/>
<circle cx="271.3" cy="103.8" r="1.4"/>
<circle cx="274.3" cy="101.7" r="1.4"/>
<circle cx="279.9" cy="109.2" r="1.4"/>
<circle cx="265.3" cy="110.8" r="1.4"/>
<circle cx="270.4" cy="107.9" r="1.4"/>
<circle cx="358.0" cy="46.0" r="1.4"/>
<circle cx="353.6" cy="49.6" r="1.4"/>
<circle cx="281.9" cy="122.2" r="1.4"/>
<circle cx="310.7" cy="84.0" r="1.4"/>
<circle cx="254.6" cy="124.3" r="1.4"/>
<circle cx="357.0" cy="57.4" r="1.4"/>
<circle cx="274.8" cy="120.1" r="1.4"/>
<circle cx="287.4" cy="115.8" r="1.4"/>
<circle cx="285.5" cy="86.2" r="1.4"/>
<circle cx="265.2" cy="128.1" r="1.4"/>
<circle cx="274.5" cy="108.8" r="1.4"/>
<circle cx="278.3" cy="89.5" r="1.4"/>
<circle cx="308.0" cy="103.5" r="1.4"/>
<circle cx="323.6" cy="99.5" r="1.4"/>
<circle cx="271.3" cy="108.0" r="1.4"/>
<circle cx="279.3" cy="133.3" r="1.4"/>
<circle cx="364.1" cy="77.2" r="1.4"/>
<circle cx="298.8" cy="96.1" r="1.4"/>
<circle cx="298.6" cy="92.2" r="1.4"/>
<circle cx="289.3" cy="104.4" r="1.4"/>
<circle cx="323.1" cy="86.2" r="1.4"/>
<circle cx="263.1" cy="124.9" r="1.4"/>
<circle cx="293.2" cy="90.7" r="1.4"/>
<circle cx="258.8" cy="129.4" r="1.4"/>
<circle cx="328.2" cy="67.5" r="1.4"/>
<circle cx="302.9" cy="87.2" r="1.4"/>
<circle cx="331.7" cy="67.5" r="1.4"/>
<circle cx="352.2" cy="63.1" r="1.4"/>
<circle cx="312.2" cy="95.6" r="1.4"/>
<circle cx="296.2" cy="95.5" r="1.4"/>
<circle cx="336.3" cy="75.5" r="1.4"/>
<circle cx="292.2" cy="110.6" r="1.4"/>
<circle cx="266.8" cy="120.3" r="1.4"/>
<circle cx="269.9" cy="106.3" r="1.4"/>
<circle cx="294.8" cy="107.5" r="1.4"/>
<circle cx="273.5" cy="98.8" r="1.4"/>
<circle cx="310.4" cy="84.1" r="1.4"/>
<circle cx="281.8" cy="104.8" r="1.4"/>
<circle cx="317.9" cy="92.8" r="1.4"/>
<circle cx="317.8" cy="74.5" r="1.4"/>
<circle cx="326.1" cy="92.2" r="1.4"/>
<circle cx="255.5" cy="114.7" r="1.4"/>
<circle cx="314.6" cy="77.7" r="1.4"/>
<circle cx="282.5" cy="111.1" r="1.4"/>
<circle cx="257.2" cy="110.5" r="1.4"/>
<circle cx="266.3" cy="126.9" r="1.4"/>
<circle cx="304.3" cy="89.4" r="1.4"/>
<circle cx="298.5" cy="78.2" r="1.4"/>
<circle cx="306.5" cy="104.1" r="1.4"/>
<circle cx="331.5" cy="77.3" r="1.4"/>
<circle cx="302.6" cy="106.3" r="1.4"/>
<circle cx="280.9" cy="98.4" r="1.4"/>
<circle cx="285.1" cy="117.0" r="1.4"/>
<circle cx="256.2" cy="120.7" r="1.4"/>
<circle cx="332.9" cy="69.4" r="1.4"/>
<circle cx="335.7" cy="83.3" r="1.4"/>
<circle cx="316.1" cy="82.4" r="1.4"/>
<circle cx="282.2" cy="120.3" r="1.4"/>
<circle cx="321.1" cy="102.8" r="1.4"/>
<circle cx="274.1" cy="106.5" r="1.4"/>
<circle cx="296.6" cy="93.0" r="1.4"/>
<circle cx="319.6" cy="86.4" r="1.4"/>
<circle cx="347.1" cy="63.5" r="1.4"/>
<circle cx="356.1" cy="56.1" r="1.4"/>
<circle cx="279.4" cy="102.1" r="1.4"/>
<circle cx="311.9" cy="94.2" r="1.4"/>
<circle cx="263.6" cy="113.8" r="1.4"/>
<circle cx="303.4" cy="100.8" r="1.4"/>
<circle cx="285.2" cy="121.2" r="1.4"/>
<circle cx="319.4" cy="97.1" r="1.4"/>
<circle cx="278.5" cy="95.6" r="1.4"/>
<circle cx="342.0" cy="82.6" r="1.4"/>
<circle cx="291.9" cy="117.0" r="1.4"/>
<circle cx="331.7" cy="71.0" r="1.4"/>
<circle cx="356.5" cy="56.3" r="1.4"/>
<circle cx="327.0" cy="93.4" r="1.4"/>
<circle cx="310.0" cy="69.9" r="1.4"/>
<circle cx="326.0" cy="78.0" r="1.4"/>
<circle cx="313.4" cy="80.2" r="1.4"/>
<circle cx="287.9" cy="77.4" r="1.4"/>
<circle cx="289.1" cy="88.5" r="1.4"/>
<circle cx="318.1" cy="70.9" r="1.4"/>
<circle cx="368.6" cy="58.1" r="1.4"/>
<circle cx="276.0" cy="108.3" r="1.4"/>
<circle cx="291.3" cy="101.1" r="1.4"/>
<circle cx="311.5" cy="79.2" r="1.4"/>
<circle cx="291.7" cy="95.4" r="1.4"/>
<circle cx="330.5" cy="69.7" r="1.4"/>
<circle cx="280.1" cy="126.5" r="1.4"/>
<circle cx="262.9" cy="120.7" r="1.4"/>
<circle cx="290.1" cy="97.6" r="1.4"/>
<circle cx="287.2" cy="96.6" r="1.4"/>
<circle cx="271.1" cy="103.7" r="1.4"/>
<circle cx="329.7" cy="95.3" r="1.4"/>
<circle cx="342.7" cy="79.3" r="1.4"/>
<circle cx="264.9" cy="119.6" r="1.4"/>
<circle cx="325.2" cy="95.8" r="1.4"/>
<circle cx="257.5" cy="118.2" r="1.4"/>
<circle cx="285.9" cy="99.3" r="1.4"/>
<circle cx="293.9" cy="116.8" r="1.4"/>
<circle cx="296.8" cy="83.1" r="1.4"/>
<circle cx="313.4" cy="73.5" r="1.4"/>
<circle cx="283.8" cy="91.1" r="1.4"/>
<circle cx="282.7" cy="101.0" r="1.4"/>
<circle cx="314.5" cy="97.7" r="1.4"/>
<circle cx="339.8" cy="80.1" r="1.4"/>
<circle cx="310.9" cy="72.9" r="1.4"/>
<circle cx="348.3" cy="57.4" r="1.4"/>
<circle cx="281.2" cy="89.5" r="1.4"/>
<circle cx="319.8" cy="96.8" r="1.4"/>
<circle cx="324.8" cy="75.8" r="1.4"/>
<circle cx="268.9" cy="116.4" r="1.4"/>
<circle cx="280.8" cy="114.2" r="1.4"/>
<circle cx="285.9" cy="87.8" r="1.4"/>
<circle cx="296.2" cy="74.5" r="1.4"/>
<circle cx="317.4" cy="84.5" r="1.4"/>
<circle cx="300.3" cy="96.7" r="1.4"/>
<circle cx="364.2" cy="62.2" r="1.4"/>
<circle cx="316.5" cy="66.5" r="1.4"/>
<circle cx="367.2" cy="65.5" r="1.4"/>
<circle cx="279.1" cy="130.7" r="1.4"/>
<circle cx="328.5" cy="95.8" r="1.4"/>
<circle cx="274.1" cy="107.4" r="1.4"/>
<circle cx="340.6" cy="67.6" r="1.4"/>
<circle cx="291.7" cy="121.1" r="1.4"/>
<circle cx="290.4" cy="86.0" r="1.4"/>
<circle cx="318.6" cy="76.7" r="1.4"/>
<circle cx="269.3" cy="123.5" r="1.4"/>
<circle cx="332.7" cy="76.6" r="1.4"/>
<circle cx="304.5" cy="96.2" r="1.4"/>
<circle cx="286.3" cy="100.0" r="1.4"/>
<circle cx="266.6" cy="116.4" r="1.4"/>
<circle cx="311.3" cy="67.6" r="1.4"/>
<circle cx="257.0" cy="116.0" r="1.4"/>
<circle cx="281.3" cy="109.1" r="1.4"/>
<circle cx="338.2" cy="71.3" r="1.4"/>
<circle cx="259.5" cy="113.0" r="1.4"/>
<circle cx="325.7" cy="89.0" r="1.4"/>
<circle cx="331.5" cy="64.6" r="1.4"/>
<circle cx="332.7" cy="84.0" r="1.4"/>
<circle cx="316.5" cy="95.8" r="1.4"/>
<circle cx="273.7" cy="107.4" r="1.4"/>
<circle cx="301.3" cy="80.9" r="1.4"/>
<circle cx="273.4" cy="107.2" r="1.4"/>
<circle cx="312.1" cy="94.9" r="1.4"/>
<circle cx="282.1" cy="110.0" r="1.4"/>
<circle cx="308.3" cy="68.5" r="1.4"/>
<circle cx="326.3" cy="72.0" r="1.4"/>
<circle cx="329.1" cy="64.1" r="1.4"/>
<circle cx="318.7" cy="89.1" r="1.4"/>
<circle cx="306.4" cy="68.6" r="1.4"/>
<circle cx="273.4" cy="122.2" r="1.4"/>
<circle cx="271.2" cy="129.4" r="1.4"/>
<circle cx="333.9" cy="64.6" r="1.4"/>
<circle cx="291.1" cy="79.1" r="1.4"/>
<circle cx="295.7" cy="75.1" r="1.4"/>
<circle cx="291.2" cy="115.5" r="1.4"/>
<circle cx="264.0" cy="119.2" r="1.4"/>
<circle cx="285.1" cy="115.2" r="1.4"/>
<circle cx="287.3" cy="105.0" r="1.4"/>
<circle cx="278.1" cy="126.4" r="1.4"/>
<circle cx="294.2" cy="115.9" r="1.4"/>
<circle cx="281.8" cy="107.7" r="1.4"/>
<circle cx="322.6" cy="93.0" r="1.4"/>
<circle cx="314.5" cy="78.8" r="1.4"/>
<circle cx="289.1" cy="97.0" r="1.4"/>
<circle cx="337.4" cy="63.2" r="1.4"/>
<circle cx="332.9" cy="93.2" r="1.4"/>
<circle cx="317.1" cy="87.9" r="1.4"/>
<circle cx="267.3" cy="107.4" r="1.4"/>
<circle cx="339.0" cy="81.8" r="1.4"/>
<circle cx="345.7" cy="62.9" r="1.4"/>
<circle cx="293.9" cy="85.3" r="1.4"/>
<circle cx="364.6" cy="64.2" r="1.4"/>
<circle cx="283.2" cy="81.7" r="1.4"/>
<circle cx="294.1" cy="116.5" r="1.4"/>
<circle cx="329.5" cy="73.0" r="1.4"/>
<circle cx="291.7" cy="73.0" r="1.4"/>
<circle cx="324.9" cy="78.9" r="1.4"/>
<circle cx="333.9" cy="69.0" r="1.4"/>
<circle cx="286.3" cy="93.5" r="1.4"/>
<circle cx="256.8" cy="126.1" r="1.4"/>
<circle cx="308.5" cy="63.0" r="1.4"/>
<circle cx="307.3" cy="67.1" r="1.4"/>
<circle cx="348.8" cy="65.6" r="1.4"/>
<circle cx="322.8" cy="76.1" r="1.4"/>
<circle cx="313.2" cy="85.7" r="1.4"/>
<circle cx="271.0" cy="110.4" r="1.4"/>
<circle cx="272.1" cy="128.1" r="1.4"/>
<circle cx="259.6" cy="124.5" r="1.4"/>
<circle cx="286.7" cy="119.4" r="1.4"/>
<circle cx="283.5" cy="75.0" r="1.4"/>
<circle cx="265.4" cy="119.3" r="1.4"/>
<circle cx="304.5" cy="76.5" r="1.4"/>
<circle cx="287.2" cy="98.2" r="1.4"/>
<circle cx="335.5" cy="79.2" r="1.4"/>
<circle cx="311.0" cy="76.4" r="1.4"/>
<circle cx="343.7" cy="61.3" r="1.4"/>
<circle cx="300.6" cy="103.2" r="1.4"/>
<circle cx="292.9" cy="87.6" r="1.4"/>
<circle cx="295.8" cy="75.9" r="1.4"/>
<circle cx="349.8" cy="68.8" r="1.4"/>
<circle cx="312.6" cy="81.7" r="1.4"/>
<circle cx="295.1" cy="87.6" r="1.4"/>
<circle cx="355.7" cy="59.6" r="1.4"/>
<circle cx="353.4" cy="45.0" r="1.4"/>
<circle cx="305.8" cy="81.2" r="1.4"/>
<circle cx="305.6" cy="71.8" r="1.4"/>
<circle cx="302.2" cy="78.7" r="1.4"/>
<circle cx="350.5" cy="59.3" r="1.4"/>
<circle cx="330.1" cy="64.6" r="1.4"/>
<circle cx="310.3" cy="105.5" r="1.4"/>
<circle cx="304.7" cy="98.4" r="1.4"/>
<circle cx="271.0" cy="121.0" r="1.4"/>
<circle cx="271.4" cy="119.2" r="1.4"/>
<circle cx="261.5" cy="118.4" r="1.4"/>
<circle cx="281.4" cy="103.5" r="1.4"/>
<circle cx="344.6" cy="74.7" r="1.4"/>
<circle cx="349.9" cy="52.7" r="1.4"/>
<circle cx="253.9" cy="129.7" r="1.4"/>
<circle cx="327.8" cy="91.4" r="1.4"/>
<circle cx="342.1" cy="72.0" r="1.4"/>
<circle cx="288.9" cy="89.4" r="1.4"/>
<circle cx="290.1" cy="86.2" r="1.4"/>
<circle cx="334.7" cy="68.9" r="1.4"/>
<circle cx="346.4" cy="72.8" r="1.4"/>
<circle cx="274.8" cy="127.6" r="1.4"/>
<circle cx="270.1" cy="124.8" r="1.4"/>
<circle cx="309.0" cy="88.1" r="1.4"/>
<circle cx="291.3" cy="113.6" r="1.4"/>
<circle cx="329.1" cy="75.1" r="1.4"/>
<circle cx="290.2" cy="103.6" r="1.4"/>
<circle cx="297.8" cy="108.2" r="1.4"/>
<circle cx="286.9" cy="84.8" r="1.4"/>
<circle cx="295.2" cy="104.5" r="1.4"/>
<circle cx="273.0" cy="128.1" r="1.4"/>
<circle cx="332.1" cy="79.6" r="1.4"/>
<circle cx="324.7" cy="74.8" r="1.4"/>
<circle cx="266.5" cy="107.0" r="1.4"/>
<circle cx="307.0" cy="70.2" r="1.4"/>
<circle cx="292.1" cy="77.3" r="1.4"/>
<circle cx="276.8" cy="128.8" r="1.4"/>
<circle cx="346.7" cy="61.8" r="1.4"/>
<circle cx="280.1" cy="88.6" r="1.4"/>
<circle cx="275.5" cy="102.2" r="1.4"/>
<circle cx="279.5" cy="125.0" r="1.4"/>
<circle cx="263.7" cy="130.9" r="1.4"/>
<circle cx="296.7" cy="92.6" r="1.4"/>
<circle cx="332.5" cy="79.9" r="1.4"/>
<circle cx="281.2" cy="102.0" r="1.4"/>
<circle cx="296.5" cy="81.4" r="1.4"/>
<circle cx="293.7" cy="102.3" r="1.4"/>
<circle cx="298.6" cy="104.0" r="1.4"/>
<circle cx="347.1" cy="62.4" r="1.4"/>
<circle cx="332.7" cy="82.6" r="1.4"/>
<circle cx="286.9" cy="80.1" r="1.4"/>
<circle cx="321.1" cy="68.8" r="1.4"/>
<circle cx="310.1" cy="70.1" r="1.4"/>
<circle cx="296.6" cy="77.8" r="1.4"/>
<circle cx="298.5" cy="79.5" r="1.4"/>
<circle cx="294.8" cy="116.5" r="1.4"/>
<circle cx="287.0" cy="91.3" r="1.4"/>
<circle cx="290.2" cy="104.3" r="1.4"/>
<circle cx="295.6" cy="85.7" r="1.4"/>
<circle cx="351.2" cy="77.6" r="1.4"/>
<circle cx="342.1" cy="65.5" r="1.4"/>
<circle cx="356.0" cy="49.1" r="1.4"/>
<circle cx="297.8" cy="82.4" r="1.4"/>
<circle cx="360.8" cy="66.5" r="1.4"/>
<circle cx="283.8" cy="93.8" r="1.4"/>
<circle cx="336.4" cy="61.3" r="1.4"/>
<circle cx="268.8" cy="125.1" r="1.4"/>
<circle cx="282.2" cy="89.2" r="1.4"/>
<circle cx="286.9" cy="125.6" r="1.4"/>
<circle cx="296.2" cy="79.3" r="1.4"/>
<circle cx="287.6" cy="117.0" r="1.4"/>
<circle cx="358.9" cy="75.0" r="1.4"/>
<circle cx="333.2" cy="70.2" r="1.4"/>
<circle cx="261.4" cy="130.4" r="1.4"/>
<circle cx="323.7" cy="92.6" r="1.4"/>
<circle cx="317.9" cy="91.2" r="1.4"/>
<circle cx="299.3" cy="96.3" r="1.4"/>
<circle cx="291.4" cy="84.3" r="1.4"/>
<circle cx="340.0" cy="79.7" r="1.4"/>
<circle class="d" cx="283.4" cy="66.5" r="1.4"/>
<circle class="d" cx="276.2" cy="70.4" r="1.4"/>
<circle class="d" cx="295.4" cy="61.6" r="1.4"/>
<circle class="d" cx="299.9" cy="62.8" r="1.4"/>
<circle class="d" cx="288.1" cy="66.5" r="1.4"/>
<circle class="d" cx="289.3" cy="70.1" r="1.4"/>
<circle class="d" cx="282.6" cy="72.1" r="1.4"/>
<circle class="d" cx="272.7" cy="74.0" r="1.4"/>
<circle class="d" cx="298.3" cy="69.2" r="1.4"/>
<circle class="d" cx="292.9" cy="73.1" r="1.4"/>
<circle class="d" cx="295.8" cy="74.0" r="1.4"/>
<circle class="d" cx="299.5" cy="72.7" r="1.4"/>
<circle class="d" cx="287.1" cy="75.2" r="1.4"/>
<circle class="d" cx="283.8" cy="77.3" r="1.4"/>
<circle class="d" cx="297.4" cy="77.3" r="1.4"/>
<circle class="d" cx="319.5" cy="49.7" r="1.4"/>
<circle class="d" cx="321.7" cy="54.7" r="1.4"/>
<circle class="d" cx="317.6" cy="55.5" r="1.4"/>
<circle class="d" cx="325.8" cy="60.2" r="1.4"/>
<circle class="d" cx="303.5" cy="67.9" r="1.4"/>
<circle class="d" cx="310.7" cy="67.4" r="1.4"/>
<circle class="d" cx="312.9" cy="66.0" r="1.4"/>
<circle class="d" cx="315.9" cy="66.8" r="1.4"/>
<circle class="d" cx="319.0" cy="65.2" r="1.4"/>
<circle class="d" cx="323.4" cy="66.3" r="1.4"/>
<circle class="d" cx="325.0" cy="68.5" r="1.4"/>
<circle class="d" cx="309.0" cy="70.1" r="1.4"/>
<circle class="d" cx="359.0" cy="38.9" r="1.4"/>
<circle class="d" cx="362.3" cy="38.7" r="1.4"/>
<circle class="d" cx="360.1" cy="42.0" r="1.4"/>
<circle class="d" cx="363.9" cy="42.6" r="1.4"/>
<circle class="d" cx="345.2" cy="44.8" r="1.4"/>
<circle class="d" cx="335.3" cy="48.9" r="1.4"/>
<circle class="d" cx="340.2" cy="50.3" r="1.4"/>
<circle class="d" cx="354.0" cy="47.0" r="1.4"/>
<circle class="d" cx="349.0" cy="50.8" r="1.4"/>
<circle class="d" cx="352.3" cy="49.7" r="1.4"/>
<circle class="d" cx="355.7" cy="50.3" r="1.4"/>
<circle class="d" cx="356.8" cy="48.6" r="1.4"/>
<circle class="d" cx="353.4" cy="52.5" r="1.4"/>
<circle class="d" cx="357.9" cy="52.0" r="1.4"/>
<circle class="d" cx="363.9" cy="48.1" r="1.4"/>
<circle class="d" cx="361.2" cy="50.3" r="1.4"/>
<circle class="d" cx="365.6" cy="50.8" r="1.4"/>
<circle class="d" cx="334.7" cy="54.7" r="1.4"/>
<circle class="d" cx="341.9" cy="54.1" r="1.4"/>
<circle class="d" cx="346.3" cy="53.6" r="1.4"/>
<circle class="d" cx="350.1" cy="55.8" r="1.4"/>
<circle class="d" cx="355.1" cy="55.2" r="1.4"/>
<circle class="d" cx="359.0" cy="56.9" r="1.4"/>
<circle class="d" cx="362.3" cy="54.1" r="1.4"/>
<circle class="d" cx="366.1" cy="57.4" r="1.4"/>
<circle class="d" cx="344.6" cy="58.0" r="1.4"/>
<circle class="d" cx="347.4" cy="59.7" r="1.4"/>
<circle class="d" cx="352.3" cy="58.5" r="1.4"/>
<circle class="d" cx="356.8" cy="60.2" r="1.4"/>
<circle class="d" cx="331.4" cy="63.0" r="1.4"/>
<circle class="d" cx="336.9" cy="61.3" r="1.4"/>
<circle class="d" cx="340.8" cy="63.0" r="1.4"/>
<circle class="d" cx="343.5" cy="60.8" r="1.4"/>
<circle class="d" cx="349.0" cy="63.0" r="1.4"/>
<circle class="d" cx="352.9" cy="63.0" r="1.4"/>
<circle class="d" cx="347.9" cy="65.2" r="1.4"/>
<circle class="d" cx="354.5" cy="65.7" r="1.4"/>
<circle class="d" cx="359.0" cy="66.8" r="1.4"/>
<circle class="d" cx="362.8" cy="67.9" r="1.4"/>
<circle class="d" cx="365.0" cy="69.6" r="1.4"/>
<circle class="d" cx="351.8" cy="67.9" r="1.4"/>
<circle class="d" cx="384.6" cy="36.0" r="1.4"/>
<circle class="d" cx="378.5" cy="37.1" r="1.4"/>
<circle class="d" cx="368.6" cy="37.8" r="1.4"/>
<circle class="d" cx="370.6" cy="38.9" r="1.4"/>
<circle class="d" cx="368.1" cy="46.4" r="1.4"/>
<circle class="d" cx="372.7" cy="46.2" r="1.4"/>
<circle class="d" cx="371.0" cy="51.4" r="1.4"/>
<circle class="d" cx="374.7" cy="51.9" r="1.4"/>
<circle class="d" cx="363.7" cy="53.0" r="1.4"/>
<circle class="d" cx="370.8" cy="54.1" r="1.4"/>
<circle class="d" cx="373.0" cy="56.9" r="1.4"/>
<circle class="d" cx="370.3" cy="59.1" r="1.4"/>
<circle class="d" cx="372.5" cy="66.3" r="1.4"/>
<circle class="d" cx="363.1" cy="69.6" r="1.4"/>
<circle class="d" cx="276.1" cy="72.6" r="1.4"/>
<circle class="d" cx="264.7" cy="79.7" r="1.4"/>
<circle class="d" cx="254.6" cy="83.9" r="1.4"/>
<circle class="d" cx="270.9" cy="83.0" r="1.4"/>
<circle class="d" cx="266.7" cy="87.4" r="1.4"/>
<circle class="d" cx="268.9" cy="88.5" r="1.4"/>
<circle class="d" cx="272.8" cy="86.9" r="1.4"/>
<circle class="d" cx="276.7" cy="87.4" r="1.4"/>
<circle class="d" cx="262.3" cy="89.4" r="1.4"/>
<circle class="d" cx="261.2" cy="91.3" r="1.4"/>
<circle class="d" cx="254.8" cy="90.7" r="1.4"/>
<circle class="d" cx="270.0" cy="92.4" r="1.4"/>
<circle class="d" cx="274.4" cy="92.9" r="1.4"/>
<circle class="d" cx="264.5" cy="95.1" r="1.4"/>
<circle class="d" cx="271.7" cy="96.8" r="1.4"/>
<circle class="d" cx="267.3" cy="98.4" r="1.4"/>
<circle class="d" cx="258.5" cy="101.8" r="1.4"/>
<circle class="d" cx="261.8" cy="103.4" r="1.4"/>
<circle class="d" cx="256.8" cy="105.1" r="1.4"/>
<circle class="d" cx="254.6" cy="107.8" r="1.4"/>
<circle class="d" cx="264.5" cy="107.3" r="1.4"/>
<circle class="d" cx="352.9" cy="76.0" r="1.4"/>
<circle class="d" cx="356.8" cy="76.0" r="1.4"/>
<circle class="d" cx="349.6" cy="84.8" r="1.4"/>
<circle class="d" cx="344.6" cy="89.2" r="1.4"/>
<circle class="d" cx="346.8" cy="90.3" r="1.4"/>
<circle class="d" cx="341.9" cy="91.4" r="1.4"/>
<circle class="d" cx="339.1" cy="88.6" r="1.4"/>
<circle class="d" cx="335.3" cy="89.2" r="1.4"/>
<circle class="d" cx="334.2" cy="98.0" r="1.4"/>
<circle class="d" cx="350.1" cy="99.1" r="1.4"/>
<circle class="d" cx="356.2" cy="98.5" r="1.4"/>
<circle class="d" cx="347.9" cy="104.1" r="1.4"/>
<circle class="d" cx="334.2" cy="109.6" r="1.4"/>
<circle class="d" cx="345.2" cy="109.0" r="1.4"/>
<circle class="d" cx="364.5" cy="82.0" r="1.4"/>
<circle class="d" cx="360.9" cy="67.1" r="1.4"/>
<circle class="d" cx="357.6" cy="72.6" r="1.4"/>
<circle class="d" cx="366.0" cy="77.6" r="1.4"/>
<circle class="d" cx="366.0" cy="83.9" r="1.4"/>
<circle class="d" cx="378.5" cy="98.0" r="1.4"/>
<circle class="d" cx="386.8" cy="99.9" r="1.4"/>
<circle class="d" cx="258.6" cy="134.1" r="1.4"/>
<circle class="d" cx="281.2" cy="127.4" r="1.4"/>
<circle class="d" cx="266.8" cy="131.3" r="1.4"/>
<circle class="d" cx="273.4" cy="130.8" r="1.4"/>
<circle class="d" cx="304.1" cy="109.3" r="1.4"/>
<circle class="d" cx="309.6" cy="109.8" r="1.4"/>
<circle class="d" cx="314.5" cy="107.6" r="1.4"/>
<circle class="d" cx="315.7" cy="110.9" r="1.4"/>
<circle class="d" cx="312.3" cy="113.1" r="1.4"/>
<circle class="d" cx="306.8" cy="114.2" r="1.4"/>
<circle class="d" cx="301.9" cy="114.8" r="1.4"/>
<circle class="d" cx="301.3" cy="117.0" r="1.4"/>
<circle class="d" cx="304.6" cy="117.5" r="1.4"/>
<circle class="d" cx="307.4" cy="118.6" r="1.4"/>
<circle class="d" cx="312.3" cy="117.0" r="1.4"/>
<circle class="d" cx="297.5" cy="120.3" r="1.4"/>
<circle class="d" cx="292.0" cy="123.0" r="1.4"/>
<circle class="d" cx="288.7" cy="127.4" r="1.4"/>
<circle class="d" cx="326.1" cy="112.6" r="1.4"/>
<circle class="d" cx="323.9" cy="102.7" r="1.4"/>
<circle class="d" cx="316.8" cy="102.7" r="1.4"/>
<circle class="d" cx="327.6" cy="112.6" r="1.4"/>
<circle class="d" cx="331.6" cy="117.3" r="1.4"/>
<rect x="247.4" y="30.9" width="146.1" height="108.79999999999998" fill="none" stroke="#a4a4a4" stroke-width="1.5"/>
<line x1="244.9" y1="129.475" x2="247.4" y2="129.475" stroke="#a9a9a9" stroke-width="0.9"/>
<text x="244.1" y="132.17499999999998" font-size="6.3" text-anchor="end" fill="#111" stroke="#111" stroke-width="0.2">−1.5</text>
<line x1="244.9" y1="104.02499999999999" x2="247.4" y2="104.02499999999999" stroke="#a9a9a9" stroke-width="0.9"/>
<text x="244.1" y="106.725" font-size="6.3" text-anchor="end" fill="#111" stroke="#111" stroke-width="0.2">−0.5</text>
<line x1="244.9" y1="78.575" x2="247.4" y2="78.575" stroke="#a9a9a9" stroke-width="0.9"/>
<text x="244.1" y="81.275" font-size="6.3" text-anchor="end" fill="#111" stroke="#111" stroke-width="0.2">0.5</text>
<line x1="244.9" y1="53.125" x2="247.4" y2="53.125" stroke="#a9a9a9" stroke-width="0.9"/>
<text x="244.1" y="55.825" font-size="6.3" text-anchor="end" fill="#111" stroke="#111" stroke-width="0.2">1.5</text>
<line x1="252.9" y1="139.7" x2="252.9" y2="142.2" stroke="#a9a9a9" stroke-width="0.9"/>
<text x="252.9" y="148.0" font-size="6.3" text-anchor="middle" fill="#111" stroke="#111" stroke-width="0.2">−2</text>
<line x1="280.2" y1="139.7" x2="280.2" y2="142.2" stroke="#a9a9a9" stroke-width="0.9"/>
<text x="280.2" y="148.0" font-size="6.3" text-anchor="middle" fill="#111" stroke="#111" stroke-width="0.2">−1</text>
<line x1="307.5" y1="139.7" x2="307.5" y2="142.2" stroke="#a9a9a9" stroke-width="0.9"/>
<text x="307.5" y="148.0" font-size="6.3" text-anchor="middle" fill="#111" stroke="#111" stroke-width="0.2">0</text>
<line x1="334.8" y1="139.7" x2="334.8" y2="142.2" stroke="#a9a9a9" stroke-width="0.9"/>
<text x="334.8" y="148.0" font-size="6.3" text-anchor="middle" fill="#111" stroke="#111" stroke-width="0.2">1</text>
<line x1="362.1" y1="139.7" x2="362.1" y2="142.2" stroke="#a9a9a9" stroke-width="0.9"/>
<text x="362.1" y="148.0" font-size="6.3" text-anchor="middle" fill="#111" stroke="#111" stroke-width="0.2">2</text>
<line x1="389.4" y1="139.7" x2="389.4" y2="142.2" stroke="#a9a9a9" stroke-width="0.9"/>
<text x="389.4" y="148.0" font-size="6.3" text-anchor="middle" fill="#111" stroke="#111" stroke-width="0.2">3</text>
<text transform="translate(203.2,9.5) scale(0.92,1)" font-size="9.4" font-weight="bold" fill="#000" stroke="#000" stroke-width="0.55">B</text>
<text x="316.1" y="160.0" font-size="8.2" font-weight="bold" text-anchor="middle" fill="#111" stroke="#111" stroke-width="0.25">scaled pIC50</text>
<text transform="translate(223.8,86.9) rotate(-90)" font-size="8.2" font-weight="bold" text-anchor="middle" fill="#111" stroke="#111" stroke-width="0.25">predicted (scaled pIC50)</text>
<path d="M33.8,303.5 L45.0,303.0 L60.0,304.0 L66.0,306.0 L76.0,309.5 L88.0,310.5 L97.0,308.5 L110.0,306.0 L126.0,305.5 L138.0,305.5 L146.0,308.0 L150.0,309.0 L153.0,312.0 L155.5,316.0 L156.5,321.0 L157.0,325.0 L157.0,324.3 L33.8,324.3 Z" fill="#1f77b4" stroke="#1f77b4" stroke-width="2.6" stroke-linejoin="round"/>
<circle cx="35.8" cy="302.3" r="1.4"/>
<circle cx="33.9" cy="302.8" r="1.4"/>
<circle cx="34.1" cy="301.9" r="1.4"/>
<circle cx="36.3" cy="300.5" r="1.4"/>
<circle cx="36.5" cy="299.6" r="1.4"/>
<circle cx="37.0" cy="298.2" r="1.4"/>
<circle cx="35.8" cy="298.1" r="1.4"/>
<circle cx="37.7" cy="297.6" r="1.4"/>
<circle cx="35.7" cy="296.6" r="1.4"/>
<circle cx="34.7" cy="295.2" r="1.4"/>
<circle cx="34.3" cy="294.5" r="1.4"/>
<circle cx="34.1" cy="293.1" r="1.4"/>
<circle cx="34.4" cy="292.3" r="1.4"/>
<circle cx="37.4" cy="291.6" r="1.4"/>
<circle cx="34.6" cy="290.6" r="1.4"/>
<circle cx="37.4" cy="289.1" r="1.4"/>
<circle cx="33.9" cy="288.8" r="1.4"/>
<circle cx="36.6" cy="286.8" r="1.4"/>
<circle cx="37.2" cy="285.3" r="1.4"/>
<circle cx="35.1" cy="284.9" r="1.4"/>
<circle cx="33.9" cy="283.2" r="1.4"/>
<circle cx="36.8" cy="281.7" r="1.4"/>
<circle cx="36.2" cy="280.0" r="1.4"/>
<circle cx="37.0" cy="279.7" r="1.4"/>
<circle cx="33.9" cy="278.7" r="1.4"/>
<circle cx="34.1" cy="265.6" r="1.4"/>
<circle cx="38.8" cy="302.4" r="1.4"/>
<circle cx="38.0" cy="301.9" r="1.4"/>
<circle cx="38.4" cy="301.3" r="1.4"/>
<circle cx="40.2" cy="300.5" r="1.4"/>
<circle cx="38.0" cy="300.7" r="1.4"/>
<circle cx="40.3" cy="299.4" r="1.4"/>
<circle cx="39.2" cy="298.6" r="1.4"/>
<circle cx="39.4" cy="296.8" r="1.4"/>
<circle cx="38.1" cy="296.2" r="1.4"/>
<circle cx="41.4" cy="295.0" r="1.4"/>
<circle cx="41.0" cy="294.0" r="1.4"/>
<circle cx="39.7" cy="293.7" r="1.4"/>
<circle cx="40.7" cy="291.9" r="1.4"/>
<circle cx="38.9" cy="291.0" r="1.4"/>
<circle cx="38.4" cy="290.4" r="1.4"/>
<circle cx="38.9" cy="289.2" r="1.4"/>
<circle cx="38.8" cy="288.2" r="1.4"/>
<circle cx="40.7" cy="287.4" r="1.4"/>
<circle cx="40.0" cy="285.0" r="1.4"/>
<circle cx="41.7" cy="283.6" r="1.4"/>
<circle cx="40.0" cy="282.7" r="1.4"/>
<circle cx="41.0" cy="280.9" r="1.4"/>
<circle cx="41.3" cy="272.0" r="1.4"/>
<circle cx="40.0" cy="265.9" r="1.4"/>
<circle cx="45.2" cy="302.3" r="1.4"/>
<circle cx="42.1" cy="301.2" r="1.4"/>
<circle cx="45.7" cy="301.5" r="1.4"/>
<circle cx="43.9" cy="300.4" r="1.4"/>
<circle cx="42.6" cy="298.9" r="1.4"/>
<circle cx="43.0" cy="298.3" r="1.4"/>
<circle cx="44.9" cy="297.1" r="1.4"/>
<circle cx="44.7" cy="295.5" r="1.4"/>
<circle cx="42.4" cy="295.3" r="1.4"/>
<circle cx="42.1" cy="294.6" r="1.4"/>
<circle cx="43.3" cy="292.8" r="1.4"/>
<circle cx="41.9" cy="292.6" r="1.4"/>
<circle cx="45.3" cy="290.6" r="1.4"/>
<circle cx="45.3" cy="289.6" r="1.4"/>
<circle cx="44.8" cy="289.1" r="1.4"/>
<circle cx="44.1" cy="288.5" r="1.4"/>
<circle cx="45.4" cy="282.7" r="1.4"/>
<circle cx="43.0" cy="277.9" r="1.4"/>
<circle cx="43.4" cy="262.0" r="1.4"/>
<circle cx="48.7" cy="302.3" r="1.4"/>
<circle cx="48.4" cy="301.6" r="1.4"/>
<circle cx="48.2" cy="300.2" r="1.4"/>
<circle cx="49.3" cy="300.4" r="1.4"/>
<circle cx="45.9" cy="299.5" r="1.4"/>
<circle cx="46.7" cy="298.5" r="1.4"/>
<circle cx="47.3" cy="297.3" r="1.4"/>
<circle cx="49.4" cy="296.4" r="1.4"/>
<circle cx="48.1" cy="295.7" r="1.4"/>
<circle cx="47.1" cy="294.3" r="1.4"/>
<circle cx="48.0" cy="293.1" r="1.4"/>
<circle cx="49.6" cy="292.5" r="1.4"/>
<circle cx="47.6" cy="291.5" r="1.4"/>
<circle cx="45.9" cy="285.4" r="1.4"/>
<circle cx="48.5" cy="279.7" r="1.4"/>
<circle cx="46.8" cy="271.6" r="1.4"/>
<circle cx="52.7" cy="302.2" r="1.4"/>
<circle cx="50.5" cy="301.7" r="1.4"/>
<circle cx="52.6" cy="300.1" r="1.4"/>
<circle cx="51.5" cy="299.8" r="1.4"/>
<circle cx="52.6" cy="298.4" r="1.4"/>
<circle cx="51.3" cy="297.6" r="1.4"/>
<circle cx="51.7" cy="296.2" r="1.4"/>
<circle cx="51.3" cy="294.6" r="1.4"/>
<circle cx="53.0" cy="292.9" r="1.4"/>
<circle cx="51.9" cy="291.1" r="1.4"/>
<circle cx="52.3" cy="289.4" r="1.4"/>
<circle cx="53.1" cy="288.5" r="1.4"/>
<circle cx="51.9" cy="286.6" r="1.4"/>
<circle cx="57.1" cy="302.3" r="1.4"/>
<circle cx="57.7" cy="302.2" r="1.4"/>
<circle cx="54.7" cy="300.8" r="1.4"/>
<circle cx="54.3" cy="301.0" r="1.4"/>
<circle cx="57.5" cy="300.0" r="1.4"/>
<circle cx="56.3" cy="299.8" r="1.4"/>
<circle cx="57.0" cy="298.9" r="1.4"/>
<circle cx="54.2" cy="297.8" r="1.4"/>
<circle cx="55.0" cy="296.8" r="1.4"/>
<circle cx="55.1" cy="295.8" r="1.4"/>
<circle cx="53.8" cy="294.0" r="1.4"/>
<circle cx="57.5" cy="289.1" r="1.4"/>
<circle cx="55.7" cy="285.2" r="1.4"/>
<circle cx="61.3" cy="303.6" r="1.4"/>
<circle cx="61.2" cy="302.2" r="1.4"/>
<circle cx="61.7" cy="302.0" r="1.4"/>
<circle cx="60.0" cy="299.5" r="1.4"/>
<circle cx="60.5" cy="300.4" r="1.4"/>
<circle cx="59.6" cy="299.0" r="1.4"/>
<circle cx="60.3" cy="298.3" r="1.4"/>
<circle cx="59.0" cy="297.3" r="1.4"/>
<circle cx="61.5" cy="296.9" r="1.4"/>
<circle cx="61.5" cy="295.7" r="1.4"/>
<circle cx="61.4" cy="293.7" r="1.4"/>
<circle cx="60.8" cy="291.8" r="1.4"/>
<circle cx="61.2" cy="286.5" r="1.4"/>
<circle cx="57.9" cy="283.1" r="1.4"/>
<circle cx="60.0" cy="268.1" r="1.4"/>
<circle cx="63.2" cy="303.9" r="1.4"/>
<circle cx="63.6" cy="303.1" r="1.4"/>
<circle cx="65.6" cy="304.2" r="1.4"/>
<circle cx="62.6" cy="302.1" r="1.4"/>
<circle cx="62.5" cy="302.2" r="1.4"/>
<circle cx="62.7" cy="300.9" r="1.4"/>
<circle cx="63.3" cy="300.4" r="1.4"/>
<circle cx="62.9" cy="299.3" r="1.4"/>
<circle cx="65.3" cy="298.5" r="1.4"/>
<circle cx="61.9" cy="297.1" r="1.4"/>
<circle cx="63.3" cy="295.9" r="1.4"/>
<circle cx="62.8" cy="294.8" r="1.4"/>
<circle cx="62.6" cy="290.8" r="1.4"/>
<circle cx="65.2" cy="279.5" r="1.4"/>
<circle cx="68.6" cy="306.3" r="1.4"/>
<circle cx="66.2" cy="304.0" r="1.4"/>
<circle cx="67.2" cy="303.6" r="1.4"/>
<circle cx="67.7" cy="302.7" r="1.4"/>
<circle cx="66.9" cy="301.0" r="1.4"/>
<circle cx="69.3" cy="299.8" r="1.4"/>
<circle cx="66.9" cy="298.1" r="1.4"/>
<circle cx="69.6" cy="298.4" r="1.4"/>
<circle cx="69.3" cy="295.3" r="1.4"/>
<circle cx="66.0" cy="293.0" r="1.4"/>
<circle cx="66.9" cy="287.6" r="1.4"/>
<circle cx="72.2" cy="307.3" r="1.4"/>
<circle cx="73.4" cy="306.3" r="1.4"/>
<circle cx="70.7" cy="304.7" r="1.4"/>
<circle cx="70.8" cy="303.4" r="1.4"/>
<circle cx="70.7" cy="302.8" r="1.4"/>
<circle cx="72.5" cy="302.0" r="1.4"/>
<circle cx="71.0" cy="300.5" r="1.4"/>
<circle cx="71.9" cy="299.8" r="1.4"/>
<circle cx="73.4" cy="298.4" r="1.4"/>
<circle cx="70.3" cy="293.0" r="1.4"/>
<circle cx="74.1" cy="308.2" r="1.4"/>
<circle cx="75.4" cy="308.0" r="1.4"/>
<circle cx="76.8" cy="307.8" r="1.4"/>
<circle cx="75.7" cy="306.8" r="1.4"/>
<circle cx="76.1" cy="305.2" r="1.4"/>
<circle cx="77.0" cy="304.5" r="1.4"/>
<circle cx="74.0" cy="302.4" r="1.4"/>
<circle cx="76.0" cy="302.5" r="1.4"/>
<circle cx="80.1" cy="308.7" r="1.4"/>
<circle cx="78.3" cy="308.9" r="1.4"/>
<circle cx="80.2" cy="308.3" r="1.4"/>
<circle cx="78.7" cy="307.8" r="1.4"/>
<circle cx="77.9" cy="306.2" r="1.4"/>
<circle cx="80.2" cy="306.1" r="1.4"/>
<circle cx="79.2" cy="304.9" r="1.4"/>
<circle cx="80.1" cy="303.7" r="1.4"/>
<circle cx="78.2" cy="301.9" r="1.4"/>
<circle cx="85.6" cy="309.7" r="1.4"/>
<circle cx="83.5" cy="308.0" r="1.4"/>
<circle cx="82.3" cy="307.0" r="1.4"/>
<circle cx="85.3" cy="306.0" r="1.4"/>
<circle cx="83.9" cy="305.1" r="1.4"/>
<circle cx="83.0" cy="303.2" r="1.4"/>
<circle cx="84.4" cy="299.3" r="1.4"/>
<circle cx="87.4" cy="309.0" r="1.4"/>
<circle cx="86.8" cy="308.4" r="1.4"/>
<circle cx="89.3" cy="307.0" r="1.4"/>
<circle cx="88.7" cy="302.2" r="1.4"/>
<circle cx="93.8" cy="307.7" r="1.4"/>
<circle cx="90.3" cy="308.5" r="1.4"/>
<circle cx="93.6" cy="306.0" r="1.4"/>
<circle cx="92.8" cy="305.0" r="1.4"/>
<circle cx="93.3" cy="304.6" r="1.4"/>
<circle cx="90.0" cy="304.4" r="1.4"/>
<circle cx="92.0" cy="301.9" r="1.4"/>
<circle cx="90.6" cy="300.1" r="1.4"/>
<circle cx="95.4" cy="307.7" r="1.4"/>
<circle cx="95.2" cy="307.3" r="1.4"/>
<circle cx="95.2" cy="306.7" r="1.4"/>
<circle cx="96.5" cy="306.0" r="1.4"/>
<circle cx="95.4" cy="304.8" r="1.4"/>
<circle cx="96.6" cy="303.2" r="1.4"/>
<circle cx="95.8" cy="301.9" r="1.4"/>
<circle cx="96.7" cy="299.6" r="1.4"/>
<circle cx="95.5" cy="297.9" r="1.4"/>
<circle cx="101.5" cy="306.9" r="1.4"/>
<circle cx="101.3" cy="305.4" r="1.4"/>
<circle cx="100.5" cy="304.8" r="1.4"/>
<circle cx="98.6" cy="304.1" r="1.4"/>
<circle cx="99.7" cy="302.8" r="1.4"/>
<circle cx="101.0" cy="301.5" r="1.4"/>
<circle cx="100.9" cy="301.0" r="1.4"/>
<circle cx="98.3" cy="300.4" r="1.4"/>
<circle cx="98.6" cy="297.9" r="1.4"/>
<circle cx="100.6" cy="295.0" r="1.4"/>
<circle cx="100.8" cy="290.9" r="1.4"/>
<circle cx="100.8" cy="286.3" r="1.4"/>
<circle cx="105.1" cy="306.2" r="1.4"/>
<circle cx="105.8" cy="305.0" r="1.4"/>
<circle cx="104.2" cy="303.6" r="1.4"/>
<circle cx="104.6" cy="303.1" r="1.4"/>
<circle cx="102.8" cy="302.4" r="1.4"/>
<circle cx="103.4" cy="301.3" r="1.4"/>
<circle cx="105.2" cy="299.9" r="1.4"/>
<circle cx="105.6" cy="299.2" r="1.4"/>
<circle cx="105.4" cy="298.1" r="1.4"/>
<circle cx="103.3" cy="297.4" r="1.4"/>
<circle cx="105.2" cy="296.1" r="1.4"/>
<circle cx="102.7" cy="295.0" r="1.4"/>
<circle cx="109.1" cy="305.3" r="1.4"/>
<circle cx="105.9" cy="304.7" r="1.4"/>
<circle cx="105.8" cy="303.8" r="1.4"/>
<circle cx="105.9" cy="303.1" r="1.4"/>
<circle cx="107.5" cy="301.6" r="1.4"/>
<circle cx="109.3" cy="301.6" r="1.4"/>
<circle cx="109.6" cy="300.6" r="1.4"/>
<circle cx="107.4" cy="300.0" r="1.4"/>
<circle cx="108.2" cy="298.2" r="1.4"/>
<circle cx="108.4" cy="297.2" r="1.4"/>
<circle cx="108.4" cy="296.2" r="1.4"/>
<circle cx="107.5" cy="295.7" r="1.4"/>
<circle cx="106.5" cy="293.4" r="1.4"/>
<circle cx="106.6" cy="282.2" r="1.4"/>
<circle cx="111.6" cy="304.8" r="1.4"/>
<circle cx="113.3" cy="304.3" r="1.4"/>
<circle cx="112.9" cy="302.5" r="1.4"/>
<circle cx="110.4" cy="302.0" r="1.4"/>
<circle cx="111.4" cy="300.7" r="1.4"/>
<circle cx="112.5" cy="299.8" r="1.4"/>
<circle cx="110.0" cy="299.1" r="1.4"/>
<circle cx="112.4" cy="297.6" r="1.4"/>
<circle cx="112.9" cy="296.4" r="1.4"/>
<circle cx="113.2" cy="295.4" r="1.4"/>
<circle cx="113.1" cy="295.3" r="1.4"/>
<circle cx="113.5" cy="294.2" r="1.4"/>
<circle cx="110.3" cy="292.9" r="1.4"/>
<circle cx="113.0" cy="292.1" r="1.4"/>
<circle cx="112.3" cy="287.6" r="1.4"/>
<circle cx="109.8" cy="285.7" r="1.4"/>
<circle cx="112.0" cy="283.8" r="1.4"/>
<circle cx="111.0" cy="280.1" r="1.4"/>
<circle cx="111.4" cy="277.4" r="1.4"/>
<circle cx="111.8" cy="274.2" r="1.4"/>
<circle cx="117.1" cy="304.9" r="1.4"/>
<circle cx="116.9" cy="304.8" r="1.4"/>
<circle cx="116.6" cy="304.0" r="1.4"/>
<circle cx="115.6" cy="302.6" r="1.4"/>
<circle cx="117.6" cy="301.9" r="1.4"/>
<circle cx="117.8" cy="300.7" r="1.4"/>
<circle cx="116.6" cy="300.0" r="1.4"/>
<circle cx="116.8" cy="298.6" r="1.4"/>
<circle cx="117.0" cy="297.4" r="1.4"/>
<circle cx="117.4" cy="297.2" r="1.4"/>
<circle cx="117.3" cy="295.8" r="1.4"/>
<circle cx="116.0" cy="295.1" r="1.4"/>
<circle cx="117.5" cy="293.4" r="1.4"/>
<circle cx="116.8" cy="292.6" r="1.4"/>
<circle cx="114.3" cy="292.1" r="1.4"/>
<circle cx="116.1" cy="291.0" r="1.4"/>
<circle cx="115.2" cy="290.2" r="1.4"/>
<circle cx="115.4" cy="287.8" r="1.4"/>
<circle cx="115.8" cy="286.8" r="1.4"/>
<circle cx="117.6" cy="285.7" r="1.4"/>
<circle cx="117.7" cy="285.1" r="1.4"/>
<circle cx="117.1" cy="273.2" r="1.4"/>
<circle cx="119.4" cy="304.3" r="1.4"/>
<circle cx="118.0" cy="304.1" r="1.4"/>
<circle cx="120.9" cy="302.4" r="1.4"/>
<circle cx="118.8" cy="302.1" r="1.4"/>
<circle cx="118.6" cy="300.3" r="1.4"/>
<circle cx="118.3" cy="299.6" r="1.4"/>
<circle cx="117.9" cy="298.3" r="1.4"/>
<circle cx="118.9" cy="297.4" r="1.4"/>
<circle cx="120.5" cy="296.5" r="1.4"/>
<circle cx="119.6" cy="296.1" r="1.4"/>
<circle cx="119.6" cy="293.4" r="1.4"/>
<circle cx="120.3" cy="291.1" r="1.4"/>
<circle cx="118.8" cy="289.9" r="1.4"/>
<circle cx="118.7" cy="288.3" r="1.4"/>
<circle cx="119.3" cy="287.3" r="1.4"/>
<circle cx="121.4" cy="280.7" r="1.4"/>
<circle cx="120.8" cy="272.1" r="1.4"/>
<circle cx="122.1" cy="304.9" r="1.4"/>
<circle cx="122.8" cy="303.4" r="1.4"/>
<circle cx="122.3" cy="303.5" r="1.4"/>
<circle cx="122.7" cy="302.6" r="1.4"/>
<circle cx="123.6" cy="302.0" r="1.4"/>
<circle cx="125.4" cy="301.0" r="1.4"/>
<circle cx="124.1" cy="299.7" r="1.4"/>
<circle cx="122.8" cy="299.1" r="1.4"/>
<circle cx="125.5" cy="298.4" r="1.4"/>
<circle cx="122.9" cy="298.0" r="1.4"/>
<circle cx="125.4" cy="297.0" r="1.4"/>
<circle cx="121.9" cy="295.9" r="1.4"/>
<circle cx="125.7" cy="294.2" r="1.4"/>
<circle cx="125.1" cy="292.3" r="1.4"/>
<circle cx="124.4" cy="291.8" r="1.4"/>
<circle cx="125.1" cy="290.8" r="1.4"/>
<circle cx="125.2" cy="289.6" r="1.4"/>
<circle cx="123.1" cy="288.8" r="1.4"/>
<circle cx="124.2" cy="279.0" r="1.4"/>
<circle cx="125.1" cy="266.4" r="1.4"/>
<circle cx="128.7" cy="304.3" r="1.4"/>
<circle cx="129.2" cy="303.9" r="1.4"/>
<circle cx="127.3" cy="302.9" r="1.4"/>
<circle cx="129.2" cy="301.2" r="1.4"/>
<circle cx="126.6" cy="300.3" r="1.4"/>
<circle cx="129.7" cy="300.9" r="1.4"/>
<circle cx="128.6" cy="299.4" r="1.4"/>
<circle cx="126.6" cy="298.5" r="1.4"/>
<circle cx="127.3" cy="297.6" r="1.4"/>
<circle cx="129.0" cy="296.6" r="1.4"/>
<circle cx="128.4" cy="295.1" r="1.4"/>
<circle cx="128.2" cy="293.6" r="1.4"/>
<circle cx="128.6" cy="286.7" r="1.4"/>
<circle cx="127.4" cy="284.4" r="1.4"/>
<circle cx="128.4" cy="281.3" r="1.4"/>
<circle cx="128.0" cy="278.9" r="1.4"/>
<circle cx="129.3" cy="273.0" r="1.4"/>
<circle cx="133.0" cy="304.9" r="1.4"/>
<circle cx="133.1" cy="303.9" r="1.4"/>
<circle cx="131.0" cy="303.1" r="1.4"/>
<circle cx="133.1" cy="302.2" r="1.4"/>
<circle cx="130.7" cy="301.1" r="1.4"/>
<circle cx="131.1" cy="301.6" r="1.4"/>
<circle cx="130.2" cy="300.0" r="1.4"/>
<circle cx="132.3" cy="300.0" r="1.4"/>
<circle cx="133.1" cy="298.6" r="1.4"/>
<circle cx="130.3" cy="297.9" r="1.4"/>
<circle cx="133.1" cy="296.9" r="1.4"/>
<circle cx="131.4" cy="295.6" r="1.4"/>
<circle cx="131.9" cy="294.8" r="1.4"/>
<circle cx="131.2" cy="292.0" r="1.4"/>
<circle cx="133.7" cy="290.4" r="1.4"/>
<circle cx="130.7" cy="289.9" r="1.4"/>
<circle cx="131.0" cy="288.7" r="1.4"/>
<circle cx="131.3" cy="285.6" r="1.4"/>
<circle cx="131.7" cy="284.5" r="1.4"/>
<circle cx="132.1" cy="279.6" r="1.4"/>
<circle cx="129.9" cy="278.0" r="1.4"/>
<circle cx="133.3" cy="277.6" r="1.4"/>
<circle cx="133.7" cy="276.3" r="1.4"/>
<circle cx="134.7" cy="304.7" r="1.4"/>
<circle cx="134.3" cy="303.7" r="1.4"/>
<circle cx="134.0" cy="302.3" r="1.4"/>
<circle cx="135.4" cy="301.7" r="1.4"/>
<circle cx="137.2" cy="300.9" r="1.4"/>
<circle cx="134.9" cy="300.3" r="1.4"/>
<circle cx="135.8" cy="299.7" r="1.4"/>
<circle cx="135.1" cy="298.5" r="1.4"/>
<circle cx="133.9" cy="297.5" r="1.4"/>
<circle cx="137.8" cy="296.2" r="1.4"/>
<circle cx="136.4" cy="295.3" r="1.4"/>
<circle cx="135.6" cy="292.2" r="1.4"/>
<circle cx="134.2" cy="291.1" r="1.4"/>
<circle cx="137.4" cy="290.1" r="1.4"/>
<circle cx="136.8" cy="289.7" r="1.4"/>
<circle cx="137.7" cy="288.1" r="1.4"/>
<circle cx="137.0" cy="281.2" r="1.4"/>
<circle cx="137.3" cy="278.6" r="1.4"/>
<circle cx="136.7" cy="271.8" r="1.4"/>
<circle cx="137.9" cy="304.1" r="1.4"/>
<circle cx="141.3" cy="305.4" r="1.4"/>
<circle cx="141.6" cy="304.7" r="1.4"/>
<circle cx="139.5" cy="303.0" r="1.4"/>
<circle cx="140.0" cy="302.7" r="1.4"/>
<circle cx="141.2" cy="302.5" r="1.4"/>
<circle cx="140.7" cy="302.4" r="1.4"/>
<circle cx="139.1" cy="301.1" r="1.4"/>
<circle cx="140.2" cy="299.9" r="1.4"/>
<circle cx="139.6" cy="299.0" r="1.4"/>
<circle cx="140.6" cy="298.2" r="1.4"/>
<circle cx="139.6" cy="296.7" r="1.4"/>
<circle cx="138.3" cy="294.7" r="1.4"/>
<circle cx="138.6" cy="293.9" r="1.4"/>
<circle cx="139.5" cy="292.1" r="1.4"/>
<circle cx="140.1" cy="291.2" r="1.4"/>
<circle cx="138.7" cy="285.1" r="1.4"/>
<circle cx="144.1" cy="306.6" r="1.4"/>
<circle cx="142.2" cy="304.5" r="1.4"/>
<circle cx="144.9" cy="305.1" r="1.4"/>
<circle cx="145.0" cy="303.8" r="1.4"/>
<circle cx="142.5" cy="301.9" r="1.4"/>
<circle cx="145.0" cy="301.8" r="1.4"/>
<circle cx="144.6" cy="301.0" r="1.4"/>
<circle cx="143.7" cy="299.0" r="1.4"/>
<circle cx="144.0" cy="298.2" r="1.4"/>
<circle cx="144.1" cy="295.9" r="1.4"/>
<circle cx="142.8" cy="294.3" r="1.4"/>
<circle cx="144.1" cy="292.1" r="1.4"/>
<circle cx="142.8" cy="291.0" r="1.4"/>
<circle cx="142.4" cy="289.8" r="1.4"/>
<circle cx="146.9" cy="307.2" r="1.4"/>
<circle cx="146.4" cy="306.0" r="1.4"/>
<circle cx="149.7" cy="305.9" r="1.4"/>
<circle cx="146.0" cy="304.3" r="1.4"/>
<circle cx="148.1" cy="303.4" r="1.4"/>
<circle cx="147.6" cy="302.3" r="1.4"/>
<circle cx="147.0" cy="301.5" r="1.4"/>
<circle cx="148.6" cy="301.0" r="1.4"/>
<circle cx="146.5" cy="298.0" r="1.4"/>
<circle cx="149.8" cy="294.8" r="1.4"/>
<circle cx="148.3" cy="289.8" r="1.4"/>
<circle cx="148.6" cy="282.5" r="1.4"/>
<circle cx="152.9" cy="311.3" r="1.4"/>
<circle cx="150.2" cy="306.9" r="1.4"/>
<circle cx="152.6" cy="308.2" r="1.4"/>
<circle cx="151.1" cy="305.7" r="1.4"/>
<circle cx="150.4" cy="304.8" r="1.4"/>
<circle cx="150.2" cy="303.4" r="1.4"/>
<circle cx="150.2" cy="301.3" r="1.4"/>
<circle cx="151.6" cy="301.5" r="1.4"/>
<circle cx="152.9" cy="298.6" r="1.4"/>
<circle cx="152.8" cy="294.7" r="1.4"/>
<circle cx="150.5" cy="288.5" r="1.4"/>
<circle cx="154.2" cy="312.9" r="1.4"/>
<circle cx="156.8" cy="321.4" r="1.4"/>
<circle cx="156.4" cy="317.1" r="1.4"/>
<circle cx="154.7" cy="311.1" r="1.4"/>
<circle cx="155.9" cy="313.3" r="1.4"/>
<circle cx="154.3" cy="307.0" r="1.4"/>
<circle cx="155.1" cy="306.7" r="1.4"/>
<circle cx="156.5" cy="311.7" r="1.4"/>
<circle cx="153.9" cy="299.5" r="1.4"/>
<circle cx="153.8" cy="297.1" r="1.4"/>
<circle cx="158.9" cy="323.8" r="1.4"/>
<circle cx="159.2" cy="323.3" r="1.4"/>
<circle cx="158.2" cy="321.4" r="1.4"/>
<circle cx="159.4" cy="320.0" r="1.4"/>
<circle cx="159.5" cy="316.5" r="1.4"/>
<circle cx="158.8" cy="315.0" r="1.4"/>
<circle class="d" cx="34.5" cy="237.9" r="1.4"/>
<circle class="d" cx="39.5" cy="258.0" r="1.4"/>
<circle class="d" cx="43.9" cy="260.0" r="1.4"/>
<circle class="d" cx="54.2" cy="262.2" r="1.4"/>
<circle class="d" cx="47.6" cy="264.5" r="1.4"/>
<circle class="d" cx="35.6" cy="266.3" r="1.4"/>
<circle class="d" cx="40.5" cy="265.9" r="1.4"/>
<circle class="d" cx="54.9" cy="266.6" r="1.4"/>
<circle class="d" cx="118.4" cy="255.3" r="1.4"/>
<circle class="d" cx="125.3" cy="260.0" r="1.4"/>
<circle class="d" cx="120.1" cy="266.3" r="1.4"/>
<circle class="d" cx="111.1" cy="266.3" r="1.4"/>
<circle class="d" cx="148.7" cy="226.6" r="1.4"/>
<circle class="d" cx="131.8" cy="235.2" r="1.4"/>
<circle class="d" cx="155.6" cy="236.0" r="1.4"/>
<circle class="d" cx="135.0" cy="247.0" r="1.4"/>
<circle class="d" cx="144.6" cy="247.0" r="1.4"/>
<circle class="d" cx="159.3" cy="249.6" r="1.4"/>
<circle class="d" cx="129.9" cy="253.5" r="1.4"/>
<circle class="d" cx="131.8" cy="254.2" r="1.4"/>
<circle class="d" cx="127.4" cy="255.6" r="1.4"/>
<circle class="d" cx="128.1" cy="259.0" r="1.4"/>
<circle class="d" cx="153.3" cy="256.3" r="1.4"/>
<circle class="d" cx="139.8" cy="261.4" r="1.4"/>
<circle class="d" cx="163.2" cy="261.8" r="1.4"/>
<circle class="d" cx="139.5" cy="266.3" r="1.4"/>
<circle class="d" cx="131.8" cy="266.3" r="1.4"/>
<circle class="d" cx="34.2" cy="267.3" r="1.4"/>
<circle class="d" cx="53.0" cy="269.2" r="1.4"/>
<circle class="d" cx="47.7" cy="271.6" r="1.4"/>
<circle class="d" cx="59.8" cy="273.6" r="1.4"/>
<circle class="d" cx="53.0" cy="275.5" r="1.4"/>
<circle class="d" cx="48.7" cy="274.5" r="1.4"/>
<circle class="d" cx="35.6" cy="273.1" r="1.4"/>
<circle class="d" cx="38.0" cy="273.1" r="1.4"/>
<circle class="d" cx="33.7" cy="277.4" r="1.4"/>
<circle class="d" cx="43.8" cy="274.1" r="1.4"/>
<circle class="d" cx="42.9" cy="279.4" r="1.4"/>
<circle class="d" cx="49.1" cy="280.8" r="1.4"/>
<circle class="d" cx="56.9" cy="280.3" r="1.4"/>
<circle class="d" cx="58.8" cy="284.7" r="1.4"/>
<circle class="d" cx="111.8" cy="267.7" r="1.4"/>
<circle class="d" cx="111.5" cy="276.9" r="1.4"/>
<circle class="d" cx="120.1" cy="275.3" r="1.4"/>
<circle class="d" cx="116.6" cy="278.7" r="1.4"/>
<circle class="d" cx="98.0" cy="284.2" r="1.4"/>
<circle class="d" cx="104.2" cy="283.5" r="1.4"/>
<circle class="d" cx="109.1" cy="281.5" r="1.4"/>
<circle class="d" cx="117.3" cy="282.2" r="1.4"/>
<circle class="d" cx="88.4" cy="291.5" r="1.4"/>
<circle class="d" cx="86.3" cy="295.7" r="1.4"/>
<circle class="d" cx="91.2" cy="298.4" r="1.4"/>
<circle class="d" cx="93.2" cy="297.3" r="1.4"/>
<circle class="d" cx="76.7" cy="295.2" r="1.4"/>
<circle class="d" cx="104.9" cy="291.1" r="1.4"/>
<circle class="d" cx="87.7" cy="302.8" r="1.4"/>
<circle class="d" cx="131.8" cy="268.4" r="1.4"/>
<circle class="d" cx="139.8" cy="267.7" r="1.4"/>
<circle class="d" cx="151.5" cy="270.0" r="1.4"/>
<circle class="d" cx="153.5" cy="273.2" r="1.4"/>
<circle class="d" cx="139.5" cy="274.6" r="1.4"/>
<circle class="d" cx="143.6" cy="273.6" r="1.4"/>
<circle class="d" cx="130.1" cy="278.0" r="1.4"/>
<circle class="d" cx="137.0" cy="280.1" r="1.4"/>
<circle class="d" cx="150.8" cy="280.1" r="1.4"/>
<circle class="d" cx="159.1" cy="280.8" r="1.4"/>
<circle class="d" cx="161.8" cy="284.2" r="1.4"/>
<circle class="d" cx="165.7" cy="282.4" r="1.4"/>
<circle class="d" cx="152.9" cy="284.9" r="1.4"/>
<circle class="d" cx="139.8" cy="284.2" r="1.4"/>
<circle class="d" cx="136.3" cy="284.2" r="1.4"/>
<circle class="d" cx="144.6" cy="289.0" r="1.4"/>
<circle class="d" cx="148.0" cy="290.4" r="1.4"/>
<circle class="d" cx="153.5" cy="289.0" r="1.4"/>
<circle class="d" cx="153.5" cy="293.2" r="1.4"/>
<circle class="d" cx="154.2" cy="296.6" r="1.4"/>
<circle class="d" cx="162.5" cy="295.9" r="1.4"/>
<circle class="d" cx="163.2" cy="300.1" r="1.4"/>
<circle class="d" cx="141.2" cy="291.1" r="1.4"/>
<circle class="d" cx="137.7" cy="295.2" r="1.4"/>
<circle class="d" cx="145.3" cy="296.6" r="1.4"/>
<circle class="d" cx="150.1" cy="300.1" r="1.4"/>
<circle class="d" cx="169.4" cy="307.9" r="1.4"/>
<circle class="d" cx="162.5" cy="311.8" r="1.4"/>
<circle class="d" cx="157.0" cy="312.5" r="1.4"/>
<circle class="d" cx="166.0" cy="314.5" r="1.4"/>
<circle class="d" cx="172.8" cy="315.2" r="1.4"/>
<circle class="d" cx="168.5" cy="318.8" r="1.4"/>
<circle class="d" cx="162.3" cy="318.8" r="1.4"/>
<circle class="d" cx="163.5" cy="322.5" r="1.4"/>
<circle class="d" cx="167.9" cy="321.9" r="1.4"/>
<circle class="d" cx="158.5" cy="321.9" r="1.4"/>
<circle class="d" cx="159.8" cy="317.5" r="1.4"/>
<circle class="d" cx="73.4" cy="283.7" r="1.4"/>
<circle class="d" cx="70.0" cy="287.6" r="1.4"/>
<circle class="d" cx="71.0" cy="290.2" r="1.4"/>
<circle class="d" cx="65.6" cy="291.9" r="1.4"/>
<circle class="d" cx="74.3" cy="293.3" r="1.4"/>
<rect x="26.3" y="217.6" width="150.1" height="111.79999999999998" fill="none" stroke="#9a9a9a" stroke-width="1.35"/>
<line x1="23.8" y1="324.4" x2="26.3" y2="324.4" stroke="#a9a9a9" stroke-width="0.9"/>
<text x="23.0" y="327.09999999999997" font-size="6.3" text-anchor="end" fill="#111" stroke="#111" stroke-width="0.2">0</text>
<line x1="23.8" y1="303.09999999999997" x2="26.3" y2="303.09999999999997" stroke="#a9a9a9" stroke-width="0.9"/>
<text x="23.0" y="305.79999999999995" font-size="6.3" text-anchor="end" fill="#111" stroke="#111" stroke-width="0.2">2</text>
<line x1="23.8" y1="281.79999999999995" x2="26.3" y2="281.79999999999995" stroke="#a9a9a9" stroke-width="0.9"/>
<text x="23.0" y="284.49999999999994" font-size="6.3" text-anchor="end" fill="#111" stroke="#111" stroke-width="0.2">4</text>
<line x1="23.8" y1="260.5" x2="26.3" y2="260.5" stroke="#a9a9a9" stroke-width="0.9"/>
<text x="23.0" y="263.2" font-size="6.3" text-anchor="end" fill="#111" stroke="#111" stroke-width="0.2">6</text>
<line x1="23.8" y1="239.2" x2="26.3" y2="239.2" stroke="#a9a9a9" stroke-width="0.9"/>
<text x="23.0" y="241.89999999999998" font-size="6.3" text-anchor="end" fill="#111" stroke="#111" stroke-width="0.2">8</text>
<line x1="23.8" y1="217.89999999999998" x2="26.3" y2="217.89999999999998" stroke="#a9a9a9" stroke-width="0.9"/>
<text x="23.0" y="220.59999999999997" font-size="6.3" text-anchor="end" fill="#111" stroke="#111" stroke-width="0.2">10</text>
<line x1="32.800000000000004" y1="329" x2="32.800000000000004" y2="331.5" stroke="#a9a9a9" stroke-width="0.9"/>
<text x="32.800000000000004" y="337.3" font-size="6.3" text-anchor="middle" fill="#111" stroke="#111" stroke-width="0.2">−2</text>
<line x1="58.5" y1="329" x2="58.5" y2="331.5" stroke="#a9a9a9" stroke-width="0.9"/>
<text x="58.5" y="337.3" font-size="6.3" text-anchor="middle" fill="#111" stroke="#111" stroke-width="0.2">−1</text>
<line x1="84.2" y1="329" x2="84.2" y2="331.5" stroke="#a9a9a9" stroke-width="0.9"/>
<text x="84.2" y="337.3" font-size="6.3" text-anchor="middle" fill="#111" stroke="#111" stroke-width="0.2">0</text>
<line x1="109.9" y1="329" x2="109.9" y2="331.5" stroke="#a9a9a9" stroke-width="0.9"/>
<text x="109.9" y="337.3" font-size="6.3" text-anchor="middle" fill="#111" stroke="#111" stroke-width="0.2">1</text>
<line x1="135.6" y1="329" x2="135.6" y2="331.5" stroke="#a9a9a9" stroke-width="0.9"/>
<text x="135.6" y="337.3" font-size="6.3" text-anchor="middle" fill="#111" stroke="#111" stroke-width="0.2">2</text>
<line x1="161.3" y1="329" x2="161.3" y2="331.5" stroke="#a9a9a9" stroke-width="0.9"/>
<text x="161.3" y="337.3" font-size="6.3" text-anchor="middle" fill="#111" stroke="#111" stroke-width="0.2">3</text>
<text transform="translate(3.1,195.8) scale(0.92,1)" font-size="9.4" font-weight="bold" fill="#000" stroke="#000" stroke-width="0.55">C</text>
<text x="88.1" y="347.8" font-size="8.2" font-weight="bold" text-anchor="middle" fill="#111" stroke="#111" stroke-width="0.25">scaled pIC50</text>
<text transform="translate(9.8,281.3) rotate(-90)" font-size="8.2" font-weight="bold" text-anchor="middle" fill="#111" stroke="#111" stroke-width="0.25">squared error</text>
<path d="M255.5,300.0 L265.0,299.0 L275.0,298.0 L285.0,296.0 L298.0,301.0 L310.0,306.0 L320.0,309.0 L330.0,309.0 L340.0,308.0 L348.0,308.0 L355.0,311.0 L360.0,314.0 L366.0,317.0 L373.0,320.0 L377.0,323.0 L379.0,325.0 L379.0,324.3 L255.5,324.3 Z" fill="#1f77b4" stroke="#1f77b4" stroke-width="2.6" stroke-linejoin="round"/>
<circle cx="258.9" cy="298.3" r="1.4"/>
<circle cx="255.8" cy="297.5" r="1.4"/>
<circle cx="255.5" cy="296.6" r="1.4"/>
<circle cx="256.6" cy="295.6" r="1.4"/>
<circle cx="257.3" cy="294.5" r="1.4"/>
<circle cx="257.1" cy="294.8" r="1.4"/>
<circle cx="258.8" cy="293.7" r="1.4"/>
<circle cx="258.6" cy="292.2" r="1.4"/>
<circle cx="258.4" cy="291.2" r="1.4"/>
<circle cx="257.9" cy="290.3" r="1.4"/>
<circle cx="256.4" cy="289.9" r="1.4"/>
<circle cx="257.7" cy="288.7" r="1.4"/>
<circle cx="258.5" cy="287.9" r="1.4"/>
<circle cx="259.3" cy="286.4" r="1.4"/>
<circle cx="258.4" cy="285.7" r="1.4"/>
<circle cx="257.9" cy="284.5" r="1.4"/>
<circle cx="257.6" cy="277.6" r="1.4"/>
<circle cx="257.7" cy="276.8" r="1.4"/>
<circle cx="257.2" cy="275.9" r="1.4"/>
<circle cx="259.2" cy="273.2" r="1.4"/>
<circle cx="256.9" cy="263.5" r="1.4"/>
<circle cx="262.2" cy="298.0" r="1.4"/>
<circle cx="262.6" cy="297.3" r="1.4"/>
<circle cx="261.4" cy="296.5" r="1.4"/>
<circle cx="261.1" cy="295.7" r="1.4"/>
<circle cx="261.1" cy="294.3" r="1.4"/>
<circle cx="262.1" cy="293.3" r="1.4"/>
<circle cx="262.3" cy="291.8" r="1.4"/>
<circle cx="262.6" cy="291.4" r="1.4"/>
<circle cx="260.9" cy="290.4" r="1.4"/>
<circle cx="260.2" cy="288.5" r="1.4"/>
<circle cx="262.0" cy="287.5" r="1.4"/>
<circle cx="261.8" cy="285.2" r="1.4"/>
<circle cx="263.4" cy="284.6" r="1.4"/>
<circle cx="259.7" cy="282.9" r="1.4"/>
<circle cx="261.5" cy="278.8" r="1.4"/>
<circle cx="260.7" cy="275.0" r="1.4"/>
<circle cx="263.1" cy="272.6" r="1.4"/>
<circle cx="259.9" cy="271.3" r="1.4"/>
<circle cx="262.1" cy="269.2" r="1.4"/>
<circle cx="262.3" cy="267.4" r="1.4"/>
<circle cx="264.1" cy="298.6" r="1.4"/>
<circle cx="265.2" cy="297.3" r="1.4"/>
<circle cx="266.2" cy="295.6" r="1.4"/>
<circle cx="266.8" cy="295.0" r="1.4"/>
<circle cx="266.5" cy="293.7" r="1.4"/>
<circle cx="266.7" cy="292.4" r="1.4"/>
<circle cx="264.6" cy="292.4" r="1.4"/>
<circle cx="266.7" cy="291.0" r="1.4"/>
<circle cx="265.9" cy="289.4" r="1.4"/>
<circle cx="266.8" cy="289.3" r="1.4"/>
<circle cx="265.7" cy="288.2" r="1.4"/>
<circle cx="265.0" cy="287.0" r="1.4"/>
<circle cx="265.3" cy="286.4" r="1.4"/>
<circle cx="265.7" cy="285.0" r="1.4"/>
<circle cx="265.8" cy="283.9" r="1.4"/>
<circle cx="264.4" cy="283.3" r="1.4"/>
<circle cx="265.6" cy="279.0" r="1.4"/>
<circle cx="264.4" cy="278.3" r="1.4"/>
<circle cx="266.3" cy="269.2" r="1.4"/>
<circle cx="270.4" cy="297.2" r="1.4"/>
<circle cx="268.2" cy="296.9" r="1.4"/>
<circle cx="270.8" cy="295.5" r="1.4"/>
<circle cx="270.9" cy="294.8" r="1.4"/>
<circle cx="267.9" cy="293.7" r="1.4"/>
<circle cx="268.9" cy="292.6" r="1.4"/>
<circle cx="269.1" cy="292.0" r="1.4"/>
<circle cx="271.0" cy="290.3" r="1.4"/>
<circle cx="271.5" cy="289.7" r="1.4"/>
<circle cx="268.5" cy="287.6" r="1.4"/>
<circle cx="267.5" cy="286.8" r="1.4"/>
<circle cx="268.3" cy="283.5" r="1.4"/>
<circle cx="270.3" cy="282.4" r="1.4"/>
<circle cx="271.2" cy="278.5" r="1.4"/>
<circle cx="271.0" cy="276.2" r="1.4"/>
<circle cx="271.3" cy="268.9" r="1.4"/>
<circle cx="272.6" cy="297.5" r="1.4"/>
<circle cx="271.7" cy="297.4" r="1.4"/>
<circle cx="275.4" cy="295.9" r="1.4"/>
<circle cx="274.6" cy="296.0" r="1.4"/>
<circle cx="273.3" cy="295.7" r="1.4"/>
<circle cx="272.7" cy="295.1" r="1.4"/>
<circle cx="275.2" cy="293.8" r="1.4"/>
<circle cx="273.2" cy="292.8" r="1.4"/>
<circle cx="272.5" cy="293.6" r="1.4"/>
<circle cx="273.4" cy="292.3" r="1.4"/>
<circle cx="273.4" cy="291.2" r="1.4"/>
<circle cx="275.5" cy="289.8" r="1.4"/>
<circle cx="272.1" cy="289.5" r="1.4"/>
<circle cx="274.1" cy="287.2" r="1.4"/>
<circle cx="274.1" cy="285.8" r="1.4"/>
<circle cx="272.3" cy="284.6" r="1.4"/>
<circle cx="272.4" cy="283.2" r="1.4"/>
<circle cx="275.3" cy="278.1" r="1.4"/>
<circle cx="272.6" cy="275.3" r="1.4"/>
<circle cx="274.1" cy="266.3" r="1.4"/>
<circle cx="279.2" cy="296.2" r="1.4"/>
<circle cx="279.1" cy="296.3" r="1.4"/>
<circle cx="278.9" cy="295.7" r="1.4"/>
<circle cx="278.2" cy="294.3" r="1.4"/>
<circle cx="278.0" cy="293.3" r="1.4"/>
<circle cx="279.0" cy="293.3" r="1.4"/>
<circle cx="278.4" cy="292.4" r="1.4"/>
<circle cx="278.2" cy="291.8" r="1.4"/>
<circle cx="279.4" cy="289.7" r="1.4"/>
<circle cx="277.1" cy="288.9" r="1.4"/>
<circle cx="278.7" cy="287.5" r="1.4"/>
<circle cx="276.5" cy="285.8" r="1.4"/>
<circle cx="278.6" cy="283.7" r="1.4"/>
<circle cx="279.6" cy="296.3" r="1.4"/>
<circle cx="280.6" cy="296.2" r="1.4"/>
<circle cx="281.2" cy="295.0" r="1.4"/>
<circle cx="281.1" cy="293.9" r="1.4"/>
<circle cx="282.5" cy="292.4" r="1.4"/>
<circle cx="280.7" cy="291.4" r="1.4"/>
<circle cx="282.8" cy="290.4" r="1.4"/>
<circle cx="282.3" cy="289.8" r="1.4"/>
<circle cx="282.6" cy="288.7" r="1.4"/>
<circle cx="281.3" cy="287.4" r="1.4"/>
<circle cx="281.8" cy="286.2" r="1.4"/>
<circle cx="280.2" cy="286.4" r="1.4"/>
<circle cx="281.8" cy="283.8" r="1.4"/>
<circle cx="282.4" cy="282.3" r="1.4"/>
<circle cx="286.4" cy="296.0" r="1.4"/>
<circle cx="283.7" cy="293.9" r="1.4"/>
<circle cx="286.9" cy="294.1" r="1.4"/>
<circle cx="286.8" cy="293.1" r="1.4"/>
<circle cx="286.6" cy="291.3" r="1.4"/>
<circle cx="283.8" cy="290.1" r="1.4"/>
<circle cx="284.7" cy="289.5" r="1.4"/>
<circle cx="286.8" cy="288.6" r="1.4"/>
<circle cx="283.8" cy="286.8" r="1.4"/>
<circle cx="286.0" cy="285.1" r="1.4"/>
<circle cx="286.9" cy="282.6" r="1.4"/>
<circle cx="289.9" cy="297.2" r="1.4"/>
<circle cx="290.5" cy="296.2" r="1.4"/>
<circle cx="290.7" cy="295.0" r="1.4"/>
<circle cx="287.8" cy="294.3" r="1.4"/>
<circle cx="290.0" cy="294.3" r="1.4"/>
<circle cx="287.7" cy="291.6" r="1.4"/>
<circle cx="289.2" cy="290.4" r="1.4"/>
<circle cx="287.9" cy="288.8" r="1.4"/>
<circle cx="290.9" cy="288.3" r="1.4"/>
<circle cx="288.1" cy="272.5" r="1.4"/>
<circle cx="294.2" cy="298.4" r="1.4"/>
<circle cx="295.2" cy="298.3" r="1.4"/>
<circle cx="294.7" cy="296.6" r="1.4"/>
<circle cx="294.3" cy="296.1" r="1.4"/>
<circle cx="293.6" cy="293.9" r="1.4"/>
<circle cx="293.1" cy="292.6" r="1.4"/>
<circle cx="294.2" cy="292.1" r="1.4"/>
<circle cx="293.6" cy="291.3" r="1.4"/>
<circle cx="293.6" cy="290.1" r="1.4"/>
<circle cx="291.5" cy="285.1" r="1.4"/>
<circle cx="297.6" cy="299.4" r="1.4"/>
<circle cx="298.5" cy="300.4" r="1.4"/>
<circle cx="295.9" cy="298.0" r="1.4"/>
<circle cx="297.8" cy="297.5" r="1.4"/>
<circle cx="298.7" cy="297.8" r="1.4"/>
<circle cx="297.8" cy="296.2" r="1.4"/>
<circle cx="296.9" cy="294.6" r="1.4"/>
<circle cx="298.4" cy="294.4" r="1.4"/>
<circle cx="296.1" cy="292.5" r="1.4"/>
<circle cx="299.5" cy="292.3" r="1.4"/>
<circle cx="296.5" cy="289.0" r="1.4"/>
<circle cx="297.9" cy="287.8" r="1.4"/>
<circle cx="297.6" cy="280.5" r="1.4"/>
<circle cx="298.4" cy="279.5" r="1.4"/>
<circle cx="297.5" cy="276.9" r="1.4"/>
<circle cx="300.7" cy="301.2" r="1.4"/>
<circle cx="301.6" cy="301.7" r="1.4"/>
<circle cx="302.5" cy="301.3" r="1.4"/>
<circle cx="300.9" cy="299.1" r="1.4"/>
<circle cx="302.3" cy="298.8" r="1.4"/>
<circle cx="300.8" cy="297.6" r="1.4"/>
<circle cx="301.1" cy="295.9" r="1.4"/>
<circle cx="302.4" cy="295.9" r="1.4"/>
<circle cx="301.1" cy="294.0" r="1.4"/>
<circle cx="302.1" cy="288.2" r="1.4"/>
<circle cx="301.5" cy="286.4" r="1.4"/>
<circle cx="305.0" cy="303.1" r="1.4"/>
<circle cx="307.5" cy="303.5" r="1.4"/>
<circle cx="303.8" cy="301.7" r="1.4"/>
<circle cx="304.7" cy="300.8" r="1.4"/>
<circle cx="305.3" cy="299.7" r="1.4"/>
<circle cx="305.6" cy="299.2" r="1.4"/>
<circle cx="305.9" cy="298.6" r="1.4"/>
<circle cx="305.8" cy="297.1" r="1.4"/>
<circle cx="305.5" cy="296.5" r="1.4"/>
<circle cx="306.1" cy="295.2" r="1.4"/>
<circle cx="307.3" cy="292.1" r="1.4"/>
<circle cx="306.4" cy="279.4" r="1.4"/>
<circle cx="310.3" cy="305.2" r="1.4"/>
<circle cx="310.1" cy="305.1" r="1.4"/>
<circle cx="310.4" cy="303.7" r="1.4"/>
<circle cx="307.5" cy="301.8" r="1.4"/>
<circle cx="307.6" cy="300.7" r="1.4"/>
<circle cx="309.7" cy="301.3" r="1.4"/>
<circle cx="310.9" cy="300.0" r="1.4"/>
<circle cx="309.6" cy="295.5" r="1.4"/>
<circle cx="309.2" cy="294.3" r="1.4"/>
<circle cx="307.7" cy="293.2" r="1.4"/>
<circle cx="309.7" cy="291.7" r="1.4"/>
<circle cx="310.9" cy="291.0" r="1.4"/>
<circle cx="309.4" cy="289.8" r="1.4"/>
<circle cx="308.9" cy="288.0" r="1.4"/>
<circle cx="308.7" cy="282.4" r="1.4"/>
<circle cx="311.6" cy="305.3" r="1.4"/>
<circle cx="314.7" cy="305.1" r="1.4"/>
<circle cx="312.6" cy="305.3" r="1.4"/>
<circle cx="313.7" cy="304.3" r="1.4"/>
<circle cx="311.6" cy="302.0" r="1.4"/>
<circle cx="313.3" cy="302.2" r="1.4"/>
<circle cx="312.4" cy="301.2" r="1.4"/>
<circle cx="312.5" cy="299.6" r="1.4"/>
<circle cx="315.1" cy="299.5" r="1.4"/>
<circle cx="313.4" cy="298.0" r="1.4"/>
<circle cx="314.6" cy="295.5" r="1.4"/>
<circle cx="313.9" cy="294.0" r="1.4"/>
<circle cx="312.4" cy="289.5" r="1.4"/>
<circle cx="316.4" cy="306.9" r="1.4"/>
<circle cx="317.7" cy="307.4" r="1.4"/>
<circle cx="316.0" cy="305.7" r="1.4"/>
<circle cx="315.5" cy="305.4" r="1.4"/>
<circle cx="317.7" cy="304.9" r="1.4"/>
<circle cx="317.9" cy="304.5" r="1.4"/>
<circle cx="317.9" cy="303.3" r="1.4"/>
<circle cx="319.0" cy="302.7" r="1.4"/>
<circle cx="315.9" cy="300.3" r="1.4"/>
<circle cx="321.0" cy="308.0" r="1.4"/>
<circle cx="320.9" cy="306.8" r="1.4"/>
<circle cx="319.5" cy="305.5" r="1.4"/>
<circle cx="321.5" cy="305.5" r="1.4"/>
<circle cx="319.8" cy="303.5" r="1.4"/>
<circle cx="322.4" cy="302.8" r="1.4"/>
<circle cx="322.2" cy="302.3" r="1.4"/>
<circle cx="323.2" cy="301.3" r="1.4"/>
<circle cx="322.4" cy="298.7" r="1.4"/>
<circle cx="321.4" cy="297.6" r="1.4"/>
<circle cx="319.6" cy="296.6" r="1.4"/>
<circle cx="320.4" cy="294.0" r="1.4"/>
<circle cx="325.0" cy="307.6" r="1.4"/>
<circle cx="327.1" cy="307.4" r="1.4"/>
<circle cx="326.9" cy="306.3" r="1.4"/>
<circle cx="323.9" cy="305.5" r="1.4"/>
<circle cx="325.0" cy="304.2" r="1.4"/>
<circle cx="326.6" cy="303.4" r="1.4"/>
<circle cx="323.8" cy="302.4" r="1.4"/>
<circle cx="325.5" cy="301.4" r="1.4"/>
<circle cx="323.8" cy="300.0" r="1.4"/>
<circle cx="327.0" cy="297.7" r="1.4"/>
<circle cx="327.1" cy="293.7" r="1.4"/>
<circle cx="329.4" cy="308.1" r="1.4"/>
<circle cx="330.1" cy="306.5" r="1.4"/>
<circle cx="329.4" cy="307.0" r="1.4"/>
<circle cx="327.8" cy="305.9" r="1.4"/>
<circle cx="328.0" cy="304.5" r="1.4"/>
<circle cx="331.2" cy="304.3" r="1.4"/>
<circle cx="330.5" cy="302.7" r="1.4"/>
<circle cx="331.4" cy="302.2" r="1.4"/>
<circle cx="331.2" cy="300.5" r="1.4"/>
<circle cx="331.1" cy="298.5" r="1.4"/>
<circle cx="328.7" cy="295.5" r="1.4"/>
<circle cx="335.3" cy="307.3" r="1.4"/>
<circle cx="332.4" cy="306.5" r="1.4"/>
<circle cx="333.7" cy="305.4" r="1.4"/>
<circle cx="333.2" cy="305.3" r="1.4"/>
<circle cx="333.7" cy="304.6" r="1.4"/>
<circle cx="334.4" cy="303.2" r="1.4"/>
<circle cx="332.9" cy="302.6" r="1.4"/>
<circle cx="334.0" cy="301.1" r="1.4"/>
<circle cx="333.2" cy="300.5" r="1.4"/>
<circle cx="333.8" cy="298.5" r="1.4"/>
<circle cx="331.7" cy="297.8" r="1.4"/>
<circle cx="334.5" cy="296.5" r="1.4"/>
<circle cx="336.0" cy="307.5" r="1.4"/>
<circle cx="336.0" cy="307.7" r="1.4"/>
<circle cx="337.9" cy="306.0" r="1.4"/>
<circle cx="336.1" cy="305.5" r="1.4"/>
<circle cx="339.1" cy="303.9" r="1.4"/>
<circle cx="337.7" cy="303.4" r="1.4"/>
<circle cx="336.6" cy="302.1" r="1.4"/>
<circle cx="336.8" cy="301.2" r="1.4"/>
<circle cx="338.8" cy="300.5" r="1.4"/>
<circle cx="337.1" cy="299.7" r="1.4"/>
<circle cx="335.6" cy="298.9" r="1.4"/>
<circle cx="339.1" cy="297.6" r="1.4"/>
<circle cx="336.5" cy="296.2" r="1.4"/>
<circle cx="336.2" cy="289.7" r="1.4"/>
<circle cx="337.1" cy="286.8" r="1.4"/>
<circle cx="339.9" cy="307.1" r="1.4"/>
<circle cx="341.4" cy="306.4" r="1.4"/>
<circle cx="339.6" cy="304.9" r="1.4"/>
<circle cx="341.8" cy="303.7" r="1.4"/>
<circle cx="339.8" cy="302.8" r="1.4"/>
<circle cx="341.3" cy="302.4" r="1.4"/>
<circle cx="341.2" cy="301.2" r="1.4"/>
<circle cx="343.2" cy="299.9" r="1.4"/>
<circle cx="339.7" cy="299.5" r="1.4"/>
<circle cx="342.5" cy="297.7" r="1.4"/>
<circle cx="340.9" cy="296.7" r="1.4"/>
<circle cx="341.8" cy="294.6" r="1.4"/>
<circle cx="342.8" cy="293.6" r="1.4"/>
<circle cx="341.2" cy="292.7" r="1.4"/>
<circle cx="340.0" cy="291.9" r="1.4"/>
<circle cx="342.4" cy="289.6" r="1.4"/>
<circle cx="344.8" cy="307.3" r="1.4"/>
<circle cx="344.9" cy="305.9" r="1.4"/>
<circle cx="343.8" cy="304.8" r="1.4"/>
<circle cx="346.3" cy="303.7" r="1.4"/>
<circle cx="344.4" cy="302.6" r="1.4"/>
<circle cx="346.8" cy="302.4" r="1.4"/>
<circle cx="344.0" cy="300.6" r="1.4"/>
<circle cx="346.2" cy="299.7" r="1.4"/>
<circle cx="343.9" cy="297.8" r="1.4"/>
<circle cx="346.3" cy="295.0" r="1.4"/>
<circle cx="345.0" cy="291.5" r="1.4"/>
<circle cx="346.0" cy="286.6" r="1.4"/>
<circle cx="345.9" cy="282.2" r="1.4"/>
<circle cx="343.9" cy="269.1" r="1.4"/>
<circle cx="351.4" cy="308.2" r="1.4"/>
<circle cx="351.2" cy="308.8" r="1.4"/>
<circle cx="347.6" cy="305.9" r="1.4"/>
<circle cx="350.9" cy="307.4" r="1.4"/>
<circle cx="350.5" cy="306.3" r="1.4"/>
<circle cx="349.1" cy="304.9" r="1.4"/>
<circle cx="347.9" cy="303.3" r="1.4"/>
<circle cx="350.1" cy="304.1" r="1.4"/>
<circle cx="349.3" cy="303.0" r="1.4"/>
<circle cx="348.5" cy="301.2" r="1.4"/>
<circle cx="350.7" cy="301.3" r="1.4"/>
<circle cx="351.4" cy="299.7" r="1.4"/>
<circle cx="348.8" cy="297.1" r="1.4"/>
<circle cx="348.1" cy="295.8" r="1.4"/>
<circle cx="350.9" cy="295.0" r="1.4"/>
<circle cx="348.5" cy="293.2" r="1.4"/>
<circle cx="348.5" cy="292.3" r="1.4"/>
<circle cx="351.4" cy="292.1" r="1.4"/>
<circle cx="349.6" cy="283.0" r="1.4"/>
<circle cx="349.7" cy="280.9" r="1.4"/>
<circle cx="348.5" cy="276.6" r="1.4"/>
<circle cx="348.4" cy="271.9" r="1.4"/>
<circle cx="349.7" cy="270.9" r="1.4"/>
<circle cx="355.3" cy="309.8" r="1.4"/>
<circle cx="352.4" cy="307.7" r="1.4"/>
<circle cx="353.3" cy="307.2" r="1.4"/>
<circle cx="353.2" cy="307.0" r="1.4"/>
<circle cx="354.2" cy="306.8" r="1.4"/>
<circle cx="353.8" cy="305.7" r="1.4"/>
<circle cx="351.7" cy="303.6" r="1.4"/>
<circle cx="352.4" cy="302.9" r="1.4"/>
<circle cx="355.1" cy="302.2" r="1.4"/>
<circle cx="354.3" cy="301.1" r="1.4"/>
<circle cx="355.4" cy="300.3" r="1.4"/>
<circle cx="352.8" cy="296.5" r="1.4"/>
<circle cx="352.4" cy="295.4" r="1.4"/>
<circle cx="357.2" cy="311.4" r="1.4"/>
<circle cx="357.0" cy="310.3" r="1.4"/>
<circle cx="355.7" cy="308.5" r="1.4"/>
<circle cx="358.3" cy="309.2" r="1.4"/>
<circle cx="356.9" cy="306.8" r="1.4"/>
<circle cx="355.6" cy="305.5" r="1.4"/>
<circle cx="358.2" cy="305.4" r="1.4"/>
<circle cx="356.2" cy="304.0" r="1.4"/>
<circle cx="356.4" cy="301.8" r="1.4"/>
<circle cx="356.3" cy="300.6" r="1.4"/>
<circle cx="358.5" cy="297.0" r="1.4"/>
<circle cx="357.5" cy="296.0" r="1.4"/>
<circle cx="359.0" cy="290.5" r="1.4"/>
<circle cx="355.8" cy="281.6" r="1.4"/>
<circle cx="363.2" cy="314.4" r="1.4"/>
<circle cx="360.9" cy="312.6" r="1.4"/>
<circle cx="360.8" cy="312.3" r="1.4"/>
<circle cx="362.3" cy="311.8" r="1.4"/>
<circle cx="363.3" cy="311.9" r="1.4"/>
<circle cx="361.7" cy="310.9" r="1.4"/>
<circle cx="362.7" cy="310.5" r="1.4"/>
<circle cx="362.6" cy="309.2" r="1.4"/>
<circle cx="360.9" cy="307.0" r="1.4"/>
<circle cx="363.2" cy="307.7" r="1.4"/>
<circle cx="362.0" cy="305.9" r="1.4"/>
<circle cx="359.7" cy="303.2" r="1.4"/>
<circle cx="362.8" cy="302.0" r="1.4"/>
<circle cx="360.4" cy="300.2" r="1.4"/>
<circle cx="359.9" cy="297.2" r="1.4"/>
<circle cx="362.0" cy="289.7" r="1.4"/>
<circle cx="365.2" cy="315.7" r="1.4"/>
<circle cx="366.9" cy="315.3" r="1.4"/>
<circle cx="367.3" cy="314.7" r="1.4"/>
<circle cx="365.0" cy="312.5" r="1.4"/>
<circle cx="364.1" cy="310.6" r="1.4"/>
<circle cx="364.1" cy="310.3" r="1.4"/>
<circle cx="364.0" cy="309.2" r="1.4"/>
<circle cx="364.9" cy="308.5" r="1.4"/>
<circle cx="366.8" cy="308.2" r="1.4"/>
<circle cx="365.4" cy="307.1" r="1.4"/>
<circle cx="364.6" cy="305.7" r="1.4"/>
<circle cx="364.7" cy="304.7" r="1.4"/>
<circle cx="366.6" cy="302.6" r="1.4"/>
<circle cx="366.6" cy="301.5" r="1.4"/>
<circle cx="364.5" cy="299.2" r="1.4"/>
<circle cx="369.8" cy="317.3" r="1.4"/>
<circle cx="370.1" cy="316.8" r="1.4"/>
<circle cx="370.7" cy="316.5" r="1.4"/>
<circle cx="368.4" cy="313.8" r="1.4"/>
<circle cx="369.1" cy="313.8" r="1.4"/>
<circle cx="368.2" cy="313.0" r="1.4"/>
<circle cx="370.9" cy="312.6" r="1.4"/>
<circle cx="368.0" cy="310.7" r="1.4"/>
<circle cx="371.2" cy="311.6" r="1.4"/>
<circle cx="369.7" cy="302.9" r="1.4"/>
<circle cx="367.5" cy="289.3" r="1.4"/>
<circle cx="375.0" cy="320.9" r="1.4"/>
<circle cx="375.0" cy="319.3" r="1.4"/>
<circle cx="371.8" cy="316.6" r="1.4"/>
<circle cx="372.3" cy="315.6" r="1.4"/>
<circle cx="374.9" cy="316.5" r="1.4"/>
<circle cx="372.5" cy="314.1" r="1.4"/>
<circle cx="374.3" cy="313.1" r="1.4"/>
<circle cx="371.6" cy="306.3" r="1.4"/>
<circle cx="371.9" cy="305.1" r="1.4"/>
<circle cx="374.5" cy="304.8" r="1.4"/>
<circle cx="372.2" cy="300.6" r="1.4"/>
<circle cx="379.0" cy="323.8" r="1.4"/>
<circle cx="377.1" cy="320.6" r="1.4"/>
<circle cx="378.3" cy="320.9" r="1.4"/>
<circle cx="377.2" cy="320.5" r="1.4"/>
<circle cx="379.0" cy="321.0" r="1.4"/>
<circle cx="379.0" cy="319.7" r="1.4"/>
<circle cx="376.1" cy="315.9" r="1.4"/>
<circle cx="376.3" cy="311.1" r="1.4"/>
<circle cx="376.4" cy="308.8" r="1.4"/>
<circle cx="379.8" cy="319.6" r="1.4"/>
<circle class="d" cx="257.4" cy="235.2" r="1.4"/>
<circle class="d" cx="261.1" cy="235.2" r="1.4"/>
<circle class="d" cx="258.7" cy="244.5" r="1.4"/>
<circle class="d" cx="276.5" cy="243.9" r="1.4"/>
<circle class="d" cx="266.6" cy="248.7" r="1.4"/>
<circle class="d" cx="263.4" cy="251.7" r="1.4"/>
<circle class="d" cx="256.0" cy="254.9" r="1.4"/>
<circle class="d" cx="261.1" cy="256.5" r="1.4"/>
<circle class="d" cx="264.8" cy="257.2" r="1.4"/>
<circle class="d" cx="269.3" cy="255.3" r="1.4"/>
<circle class="d" cx="272.5" cy="262.2" r="1.4"/>
<circle class="d" cx="285.9" cy="260.8" r="1.4"/>
<circle class="d" cx="257.4" cy="265.5" r="1.4"/>
<circle class="d" cx="346.9" cy="254.5" r="1.4"/>
<circle class="d" cx="341.4" cy="264.5" r="1.4"/>
<circle class="d" cx="346.2" cy="265.2" r="1.4"/>
<circle class="d" cx="337.3" cy="266.3" r="1.4"/>
<circle class="d" cx="353.5" cy="222.8" r="1.4"/>
<circle class="d" cx="373.1" cy="237.9" r="1.4"/>
<circle class="d" cx="356.0" cy="243.4" r="1.4"/>
<circle class="d" cx="361.4" cy="249.0" r="1.4"/>
<circle class="d" cx="361.4" cy="250.7" r="1.4"/>
<circle class="d" cx="368.0" cy="252.5" r="1.4"/>
<circle class="d" cx="374.2" cy="254.5" r="1.4"/>
<circle class="d" cx="359.0" cy="260.4" r="1.4"/>
<circle class="d" cx="370.3" cy="260.8" r="1.4"/>
<circle class="d" cx="373.1" cy="259.7" r="1.4"/>
<circle class="d" cx="353.5" cy="265.5" r="1.4"/>
<circle class="d" cx="265.2" cy="270.5" r="1.4"/>
<circle class="d" cx="257.6" cy="273.7" r="1.4"/>
<circle class="d" cx="270.0" cy="273.0" r="1.4"/>
<circle class="d" cx="273.5" cy="272.3" r="1.4"/>
<circle class="d" cx="276.9" cy="273.7" r="1.4"/>
<circle class="d" cx="281.1" cy="274.7" r="1.4"/>
<circle class="d" cx="274.9" cy="276.5" r="1.4"/>
<circle class="d" cx="270.0" cy="276.5" r="1.4"/>
<circle class="d" cx="265.2" cy="277.2" r="1.4"/>
<circle class="d" cx="255.6" cy="279.2" r="1.4"/>
<circle class="d" cx="259.7" cy="279.2" r="1.4"/>
<circle class="d" cx="281.1" cy="282.7" r="1.4"/>
<circle class="d" cx="292.1" cy="283.3" r="1.4"/>
<circle class="d" cx="295.5" cy="281.9" r="1.4"/>
<circle class="d" cx="272.3" cy="275.0" r="1.4"/>
<circle class="d" cx="343.5" cy="268.9" r="1.4"/>
<circle class="d" cx="331.7" cy="271.9" r="1.4"/>
<circle class="d" cx="342.1" cy="271.9" r="1.4"/>
<circle class="d" cx="314.5" cy="275.5" r="1.4"/>
<circle class="d" cx="307.0" cy="276.0" r="1.4"/>
<circle class="d" cx="302.1" cy="278.3" r="1.4"/>
<circle class="d" cx="322.1" cy="276.9" r="1.4"/>
<circle class="d" cx="326.2" cy="279.2" r="1.4"/>
<circle class="d" cx="330.4" cy="276.5" r="1.4"/>
<circle class="d" cx="333.5" cy="276.9" r="1.4"/>
<circle class="d" cx="338.0" cy="276.5" r="1.4"/>
<circle class="d" cx="333.8" cy="279.9" r="1.4"/>
<circle class="d" cx="335.9" cy="282.0" r="1.4"/>
<circle class="d" cx="339.3" cy="280.6" r="1.4"/>
<circle class="d" cx="315.9" cy="282.7" r="1.4"/>
<circle class="d" cx="298.7" cy="288.9" r="1.4"/>
<circle class="d" cx="353.5" cy="267.5" r="1.4"/>
<circle class="d" cx="365.2" cy="271.6" r="1.4"/>
<circle class="d" cx="355.6" cy="273.0" r="1.4"/>
<circle class="d" cx="357.0" cy="275.1" r="1.4"/>
<circle class="d" cx="348.7" cy="273.7" r="1.4"/>
<circle class="d" cx="353.5" cy="278.5" r="1.4"/>
<circle class="d" cx="353.5" cy="281.3" r="1.4"/>
<circle class="d" cx="357.0" cy="281.3" r="1.4"/>
<circle class="d" cx="379.4" cy="279.9" r="1.4"/>
<circle class="d" cx="370.7" cy="281.6" r="1.4"/>
<circle class="d" cx="376.2" cy="283.3" r="1.4"/>
<circle class="d" cx="367.3" cy="286.5" r="1.4"/>
<circle class="d" cx="383.5" cy="291.3" r="1.4"/>
<circle class="d" cx="375.5" cy="295.1" r="1.4"/>
<circle class="d" cx="352.8" cy="288.2" r="1.4"/>
<circle class="d" cx="351.4" cy="291.6" r="1.4"/>
<circle class="d" cx="357.0" cy="295.7" r="1.4"/>
<circle class="d" cx="354.9" cy="298.5" r="1.4"/>
<circle class="d" cx="359.0" cy="299.9" r="1.4"/>
<circle class="d" cx="364.5" cy="296.4" r="1.4"/>
<circle class="d" cx="367.3" cy="298.1" r="1.4"/>
<circle class="d" cx="370.0" cy="296.4" r="1.4"/>
<circle class="d" cx="365.9" cy="300.6" r="1.4"/>
<circle class="d" cx="370.7" cy="302.0" r="1.4"/>
<circle class="d" cx="368.7" cy="306.1" r="1.4"/>
<circle class="d" cx="384.9" cy="303.3" r="1.4"/>
<circle class="d" cx="372.8" cy="308.8" r="1.4"/>
<circle class="d" cx="381.7" cy="310.9" r="1.4"/>
<circle class="d" cx="385.5" cy="312.5" r="1.4"/>
<circle class="d" cx="388.0" cy="311.3" r="1.4"/>
<circle class="d" cx="390.5" cy="315.6" r="1.4"/>
<circle class="d" cx="386.8" cy="316.9" r="1.4"/>
<circle class="d" cx="378.0" cy="313.8" r="1.4"/>
<circle class="d" cx="374.9" cy="308.8" r="1.4"/>
<circle class="d" cx="380.5" cy="323.1" r="1.4"/>
<circle class="d" cx="385.5" cy="323.1" r="1.4"/>
<circle class="d" cx="390.5" cy="321.9" r="1.4"/>
<circle class="d" cx="376.1" cy="322.5" r="1.4"/>
<circle class="d" cx="368.0" cy="307.5" r="1.4"/>
<circle class="d" cx="353.0" cy="297.5" r="1.4"/>
<circle class="d" cx="363.0" cy="296.9" r="1.4"/>
<rect x="248.1" y="217.6" width="149.79999999999998" height="111.79999999999998" fill="none" stroke="#a0a0a0" stroke-width="1.5"/>
<line x1="245.7" y1="324.0" x2="248.2" y2="324.0" stroke="#a9a9a9" stroke-width="0.9"/>
<text x="244.89999999999998" y="326.7" font-size="6.3" text-anchor="end" fill="#111" stroke="#111" stroke-width="0.2">0</text>
<line x1="245.7" y1="303.6" x2="248.2" y2="303.6" stroke="#a9a9a9" stroke-width="0.9"/>
<text x="244.89999999999998" y="306.3" font-size="6.3" text-anchor="end" fill="#111" stroke="#111" stroke-width="0.2">2</text>
<line x1="245.7" y1="283.2" x2="248.2" y2="283.2" stroke="#a9a9a9" stroke-width="0.9"/>
<text x="244.89999999999998" y="285.9" font-size="6.3" text-anchor="end" fill="#111" stroke="#111" stroke-width="0.2">4</text>
<line x1="245.7" y1="262.8" x2="248.2" y2="262.8" stroke="#a9a9a9" stroke-width="0.9"/>
<text x="244.89999999999998" y="265.5" font-size="6.3" text-anchor="end" fill="#111" stroke="#111" stroke-width="0.2">6</text>
<line x1="245.7" y1="242.4" x2="248.2" y2="242.4" stroke="#a9a9a9" stroke-width="0.9"/>
<text x="244.89999999999998" y="245.1" font-size="6.3" text-anchor="end" fill="#111" stroke="#111" stroke-width="0.2">8</text>
<line x1="245.7" y1="222.0" x2="248.2" y2="222.0" stroke="#a9a9a9" stroke-width="0.9"/>
<text x="244.89999999999998" y="224.7" font-size="6.3" text-anchor="end" fill="#111" stroke="#111" stroke-width="0.2">10</text>
<line x1="254.49999999999997" y1="329" x2="254.49999999999997" y2="331.5" stroke="#a9a9a9" stroke-width="0.9"/>
<text x="254.49999999999997" y="337.3" font-size="6.3" text-anchor="middle" fill="#111" stroke="#111" stroke-width="0.2">−2</text>
<line x1="280.2" y1="329" x2="280.2" y2="331.5" stroke="#a9a9a9" stroke-width="0.9"/>
<text x="280.2" y="337.3" font-size="6.3" text-anchor="middle" fill="#111" stroke="#111" stroke-width="0.2">−1</text>
<line x1="305.9" y1="329" x2="305.9" y2="331.5" stroke="#a9a9a9" stroke-width="0.9"/>
<text x="305.9" y="337.3" font-size="6.3" text-anchor="middle" fill="#111" stroke="#111" stroke-width="0.2">0</text>
<line x1="331.59999999999997" y1="329" x2="331.59999999999997" y2="331.5" stroke="#a9a9a9" stroke-width="0.9"/>
<text x="331.59999999999997" y="337.3" font-size="6.3" text-anchor="middle" fill="#111" stroke="#111" stroke-width="0.2">1</text>
<line x1="357.29999999999995" y1="329" x2="357.29999999999995" y2="331.5" stroke="#a9a9a9" stroke-width="0.9"/>
<text x="357.29999999999995" y="337.3" font-size="6.3" text-anchor="middle" fill="#111" stroke="#111" stroke-width="0.2">2</text>
<line x1="383.0" y1="329" x2="383.0" y2="331.5" stroke="#a9a9a9" stroke-width="0.9"/>
<text x="383.0" y="337.3" font-size="6.3" text-anchor="middle" fill="#111" stroke="#111" stroke-width="0.2">3</text>
<text transform="translate(203.2,195.6) scale(0.92,1)" font-size="9.4" font-weight="bold" fill="#000" stroke="#000" stroke-width="0.55">D</text>
<text x="316.1" y="347.8" font-size="8.2" font-weight="bold" text-anchor="middle" fill="#111" stroke="#111" stroke-width="0.25">scaled pIC50</text>
<text transform="translate(222.9,273.2) rotate(-90)" font-size="8.2" font-weight="bold" text-anchor="middle" fill="#111" stroke="#111" stroke-width="0.25">squared error</text>
</svg>
</body></html>
